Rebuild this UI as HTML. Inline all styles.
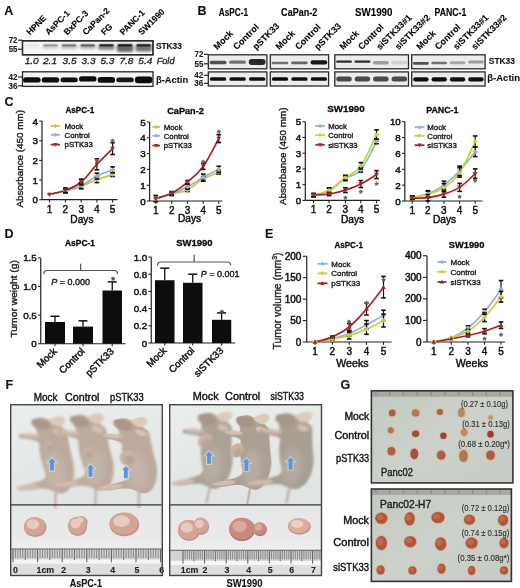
<!DOCTYPE html>
<html><head><meta charset="utf-8"><title>STK33 figure</title>
<style>
html,body{margin:0;padding:0;background:#fff;}
body{width:520px;height:588px;overflow:hidden;}
svg{display:block;font-family:'Liberation Sans', sans-serif;}
</style></head><body>
<svg width="520" height="588" viewBox="0 0 520 588">
<rect width="520" height="588" fill="#fff"/>
<defs>
<filter id="bl3" x="-50%" y="-50%" width="200%" height="200%"><feGaussianBlur stdDeviation="3"/></filter>
<filter id="bl1" x="-30%" y="-80%" width="160%" height="260%"><feGaussianBlur stdDeviation="0.9"/></filter>
<filter id="bl08" x="-20%" y="-20%" width="140%" height="140%"><feGaussianBlur stdDeviation="0.8"/></filter>
<filter id="bl03" x="-20%" y="-20%" width="140%" height="140%"><feGaussianBlur stdDeviation="0.3"/></filter>
<filter id="bl07" x="-20%" y="-20%" width="140%" height="140%"><feGaussianBlur stdDeviation="0.7"/></filter>
<filter id="bl06" x="-30%" y="-30%" width="160%" height="160%"><feGaussianBlur stdDeviation="0.6"/></filter>
<linearGradient id="gmice" x1="0" y1="0" x2="0.3" y2="1"><stop offset="0" stop-color="#eaefed"/><stop offset="1" stop-color="#e0e5e3"/></linearGradient>
<linearGradient id="gtum" x1="0" y1="0" x2="0" y2="1"><stop offset="0" stop-color="#e6e7e7"/><stop offset="0.7" stop-color="#e9e9e9"/><stop offset="1" stop-color="#efefef"/></linearGradient>
<linearGradient id="gG" x1="0" y1="0" x2="1" y2="1"><stop offset="0" stop-color="#c3cac2"/><stop offset="0.5" stop-color="#ccd2ca"/><stop offset="1" stop-color="#c6ccc4"/></linearGradient>
</defs>
<text x="4.30" y="15.20" font-size="12.5" stroke="#111" stroke-width="0.12" font-weight="bold" fill="#111" >A</text>
<text x="197.40" y="14.50" font-size="12.5" stroke="#111" stroke-width="0.12" font-weight="bold" fill="#111" >B</text>
<text x="4.60" y="106.30" font-size="12.5" stroke="#111" stroke-width="0.12" font-weight="bold" fill="#111" >C</text>
<text x="4.60" y="238.30" font-size="12.5" stroke="#111" stroke-width="0.12" font-weight="bold" fill="#111" >D</text>
<text x="264.90" y="238.00" font-size="12.5" stroke="#111" stroke-width="0.12" font-weight="bold" fill="#111" >E</text>
<text x="5.60" y="389.20" font-size="12.5" stroke="#111" stroke-width="0.12" font-weight="bold" fill="#111" >F</text>
<text x="340.60" y="389.00" font-size="12.5" stroke="#111" stroke-width="0.12" font-weight="bold" fill="#111" >G</text>
<rect x="22.50" y="40.80" width="130.50" height="14.00" fill="#f6f6f6" />
<rect x="22.50" y="40.80" width="130.50" height="14.00" fill="none" stroke="#2a2a2a" stroke-width="1.3" />
<rect x="23.62" y="44.00" width="16.41" height="4.00" rx="2" fill="#111" opacity="0.02" filter="url(#bl1)"/>
<rect x="24.62" y="44.20" width="14.41" height="2.2" rx="1.1" fill="#111" opacity="0.03" filter="url(#bl06)"/>
<rect x="42.26" y="44.00" width="16.41" height="5.00" rx="2" fill="#111" opacity="0.15" filter="url(#bl1)"/>
<rect x="43.26" y="44.20" width="14.41" height="2.2" rx="1.1" fill="#111" opacity="0.3" filter="url(#bl06)"/>
<rect x="60.90" y="44.00" width="16.41" height="5.00" rx="2" fill="#111" opacity="0.22" filter="url(#bl1)"/>
<rect x="61.90" y="44.20" width="14.41" height="2.2" rx="1.1" fill="#111" opacity="0.4" filter="url(#bl06)"/>
<rect x="79.55" y="44.00" width="16.41" height="5.00" rx="2" fill="#111" opacity="0.28" filter="url(#bl1)"/>
<rect x="80.55" y="44.20" width="14.41" height="2.2" rx="1.1" fill="#111" opacity="0.5" filter="url(#bl06)"/>
<rect x="98.19" y="44.00" width="16.41" height="6.00" rx="2" fill="#111" opacity="0.45" filter="url(#bl1)"/>
<rect x="99.19" y="44.20" width="14.41" height="2.2" rx="1.1" fill="#111" opacity="0.8" filter="url(#bl06)"/>
<rect x="116.83" y="44.00" width="16.41" height="8.00" rx="2" fill="#111" opacity="0.6" filter="url(#bl1)"/>
<rect x="117.83" y="44.20" width="14.41" height="2.2" rx="1.1" fill="#111" opacity="0.85" filter="url(#bl06)"/>
<rect x="135.48" y="44.00" width="16.41" height="7.50" rx="2" fill="#111" opacity="0.55" filter="url(#bl1)"/>
<rect x="136.48" y="44.20" width="14.41" height="2.2" rx="1.1" fill="#111" opacity="0.8" filter="url(#bl06)"/>
<rect x="22.50" y="40.80" width="130.50" height="14.00" fill="none" stroke="#2a2a2a" stroke-width="1.3" />
<rect x="22.50" y="71.80" width="130.50" height="14.60" fill="#f3f3f3" />
<rect x="23.06" y="77.20" width="17.52" height="5.40" rx="2.70" fill="#0a0a0a" opacity="1.00" filter="url(#bl06)"/>
<rect x="41.70" y="77.34" width="17.52" height="5.13" rx="2.56" fill="#0a0a0a" opacity="1.00" filter="url(#bl06)"/>
<rect x="60.35" y="77.47" width="17.52" height="4.86" rx="2.43" fill="#0a0a0a" opacity="1.00" filter="url(#bl06)"/>
<rect x="78.99" y="76.20" width="17.52" height="5.40" rx="2.70" fill="#0a0a0a" opacity="1.00" filter="url(#bl06)"/>
<rect x="97.63" y="76.93" width="17.52" height="5.94" rx="2.97" fill="#0a0a0a" opacity="1.00" filter="url(#bl06)"/>
<rect x="116.27" y="77.61" width="17.52" height="4.59" rx="2.29" fill="#0a0a0a" opacity="0.95" filter="url(#bl06)"/>
<rect x="134.92" y="76.53" width="17.52" height="6.75" rx="3.00" fill="#0a0a0a" opacity="1.00" filter="url(#bl06)"/>
<rect x="22.50" y="71.80" width="130.50" height="14.60" fill="none" stroke="#2a2a2a" stroke-width="1.3" />
<text x="17.50" y="43.21" font-size="8.4" stroke="#222" stroke-width="0.12" font-weight="bold" text-anchor="end" fill="#222" textLength="8.80" lengthAdjust="spacingAndGlyphs" >72</text>
<line x1="18.10" y1="40.20" x2="22.50" y2="40.20" stroke="#222" stroke-width="1.2" />
<text x="17.50" y="52.21" font-size="8.4" stroke="#222" stroke-width="0.12" font-weight="bold" text-anchor="end" fill="#222" textLength="8.80" lengthAdjust="spacingAndGlyphs" >55</text>
<line x1="18.10" y1="49.20" x2="22.50" y2="49.20" stroke="#222" stroke-width="1.2" />
<text x="17.50" y="80.01" font-size="8.4" stroke="#222" stroke-width="0.12" font-weight="bold" text-anchor="end" fill="#222" textLength="9.00" lengthAdjust="spacingAndGlyphs" >42</text>
<line x1="18.10" y1="77.00" x2="22.50" y2="77.00" stroke="#222" stroke-width="1.2" />
<text x="17.50" y="88.81" font-size="8.4" stroke="#222" stroke-width="0.12" font-weight="bold" text-anchor="end" fill="#222" textLength="9.00" lengthAdjust="spacingAndGlyphs" >36</text>
<line x1="18.10" y1="85.80" x2="22.50" y2="85.80" stroke="#222" stroke-width="1.2" />
<text x="155.90" y="49.19" font-size="9.2" stroke="#111" stroke-width="0.12" font-weight="bold" fill="#111" textLength="26.00" lengthAdjust="spacingAndGlyphs" >STK33</text>
<text x="156.00" y="82.67" font-size="9.4" stroke="#111" stroke-width="0.12" font-weight="bold" fill="#111" textLength="32.10" lengthAdjust="spacingAndGlyphs" >&#946;-Actin</text>
<text x="31.70" y="63.99" font-size="9.2" stroke="#222" stroke-width="0.3" text-anchor="middle" fill="#222" font-style="italic" textLength="14.00" lengthAdjust="spacingAndGlyphs" >1.0</text>
<text x="50.00" y="63.99" font-size="9.2" stroke="#222" stroke-width="0.3" text-anchor="middle" fill="#222" font-style="italic" textLength="14.00" lengthAdjust="spacingAndGlyphs" >2.1</text>
<text x="69.60" y="63.99" font-size="9.2" stroke="#222" stroke-width="0.3" text-anchor="middle" fill="#222" font-style="italic" textLength="14.00" lengthAdjust="spacingAndGlyphs" >3.5</text>
<text x="88.60" y="63.99" font-size="9.2" stroke="#222" stroke-width="0.3" text-anchor="middle" fill="#222" font-style="italic" textLength="14.00" lengthAdjust="spacingAndGlyphs" >3.3</text>
<text x="107.40" y="63.99" font-size="9.2" stroke="#222" stroke-width="0.3" text-anchor="middle" fill="#222" font-style="italic" textLength="14.00" lengthAdjust="spacingAndGlyphs" >5.3</text>
<text x="126.40" y="63.99" font-size="9.2" stroke="#222" stroke-width="0.3" text-anchor="middle" fill="#222" font-style="italic" textLength="14.00" lengthAdjust="spacingAndGlyphs" >7.8</text>
<text x="145.30" y="63.99" font-size="9.2" stroke="#222" stroke-width="0.3" text-anchor="middle" fill="#222" font-style="italic" textLength="14.00" lengthAdjust="spacingAndGlyphs" >5.4</text>
<text x="156.70" y="63.99" font-size="9.2" stroke="#222" stroke-width="0.3" fill="#222" font-style="italic" textLength="17.80" lengthAdjust="spacingAndGlyphs" >Fold</text>
<text x="30.02" y="35.60" font-size="8.6" stroke="#1a1a1a" stroke-width="0.12" font-weight="bold" transform="rotate(-45 30.02 35.60)" >HPNE</text>
<text x="48.66" y="35.60" font-size="8.6" stroke="#1a1a1a" stroke-width="0.12" font-weight="bold" transform="rotate(-45 48.66 35.60)" >AsPC-1</text>
<text x="67.31" y="35.60" font-size="8.6" stroke="#1a1a1a" stroke-width="0.12" font-weight="bold" transform="rotate(-45 67.31 35.60)" >BxPC-3</text>
<text x="85.95" y="35.60" font-size="8.6" stroke="#1a1a1a" stroke-width="0.12" font-weight="bold" transform="rotate(-45 85.95 35.60)" >CaPan-2</text>
<text x="104.59" y="35.60" font-size="8.6" stroke="#1a1a1a" stroke-width="0.12" font-weight="bold" transform="rotate(-45 104.59 35.60)" >FG</text>
<text x="123.24" y="35.60" font-size="8.6" stroke="#1a1a1a" stroke-width="0.12" font-weight="bold" transform="rotate(-45 123.24 35.60)" >PANC-1</text>
<text x="141.88" y="35.60" font-size="8.6" stroke="#1a1a1a" stroke-width="0.12" font-weight="bold" transform="rotate(-45 141.88 35.60)" >SW1990</text>
<rect x="208.30" y="54.80" width="58.60" height="14.00" fill="#ececec" />
<rect x="209.67" y="60.85" width="16.80" height="3.30" rx="1.65" fill="#0a0a0a" opacity="0.70" filter="url(#bl06)"/>
<rect x="229.20" y="60.55" width="16.80" height="3.30" rx="1.65" fill="#0a0a0a" opacity="0.55" filter="url(#bl06)"/>
<rect x="248.73" y="58.90" width="16.80" height="6.00" rx="3.00" fill="#0a0a0a" opacity="0.88" filter="url(#bl06)"/>
<rect x="208.30" y="54.80" width="58.60" height="14.00" fill="none" stroke="#2a2a2a" stroke-width="1.3" />
<rect x="208.30" y="71.90" width="58.60" height="14.10" fill="#ececec" />
<rect x="209.86" y="77.15" width="16.41" height="3.70" rx="1.85" fill="#0a0a0a" opacity="1.00" filter="url(#bl06)"/>
<rect x="229.40" y="77.15" width="16.41" height="3.70" rx="1.85" fill="#0a0a0a" opacity="1.00" filter="url(#bl06)"/>
<rect x="248.93" y="77.15" width="16.41" height="3.70" rx="1.85" fill="#0a0a0a" opacity="1.00" filter="url(#bl06)"/>
<rect x="208.30" y="71.90" width="58.60" height="14.10" fill="none" stroke="#2a2a2a" stroke-width="1.3" />
<text x="217.27" y="50.30" font-size="9.0" stroke="#1a1a1a" stroke-width="0.12" font-weight="bold" transform="rotate(-45 217.27 50.30)" >Mock</text>
<text x="236.80" y="50.30" font-size="9.0" stroke="#1a1a1a" stroke-width="0.12" font-weight="bold" transform="rotate(-45 236.80 50.30)" >Control</text>
<text x="256.33" y="50.30" font-size="9.0" stroke="#1a1a1a" stroke-width="0.12" font-weight="bold" transform="rotate(-45 256.33 50.30)" >pSTK33</text>
<text x="233.40" y="15.99" font-size="10.3" stroke="#1a1a1a" stroke-width="0.12" font-weight="bold" text-anchor="middle" textLength="29.30" lengthAdjust="spacingAndGlyphs" >AsPC-1</text>
<rect x="270.30" y="54.80" width="58.30" height="14.00" fill="#ececec" />
<rect x="271.66" y="61.65" width="16.71" height="2.70" rx="1.35" fill="#0a0a0a" opacity="0.55" filter="url(#bl06)"/>
<rect x="291.09" y="61.45" width="16.71" height="2.70" rx="1.35" fill="#0a0a0a" opacity="0.60" filter="url(#bl06)"/>
<rect x="310.53" y="60.30" width="16.71" height="4.20" rx="2.10" fill="#0a0a0a" opacity="0.95" filter="url(#bl06)"/>
<rect x="270.30" y="54.80" width="58.30" height="14.00" fill="none" stroke="#2a2a2a" stroke-width="1.3" />
<rect x="270.30" y="71.90" width="58.30" height="14.10" fill="#ececec" />
<rect x="271.85" y="77.15" width="16.32" height="3.70" rx="1.85" fill="#0a0a0a" opacity="1.00" filter="url(#bl06)"/>
<rect x="291.29" y="77.15" width="16.32" height="3.70" rx="1.85" fill="#0a0a0a" opacity="1.00" filter="url(#bl06)"/>
<rect x="310.72" y="77.15" width="16.32" height="3.70" rx="1.85" fill="#0a0a0a" opacity="1.00" filter="url(#bl06)"/>
<rect x="270.30" y="71.90" width="58.30" height="14.10" fill="none" stroke="#2a2a2a" stroke-width="1.3" />
<text x="279.22" y="50.30" font-size="9.0" stroke="#1a1a1a" stroke-width="0.12" font-weight="bold" transform="rotate(-45 279.22 50.30)" >Mock</text>
<text x="298.65" y="50.30" font-size="9.0" stroke="#1a1a1a" stroke-width="0.12" font-weight="bold" transform="rotate(-45 298.65 50.30)" >Control</text>
<text x="318.08" y="50.30" font-size="9.0" stroke="#1a1a1a" stroke-width="0.12" font-weight="bold" transform="rotate(-45 318.08 50.30)" >pSTK33</text>
<text x="299.20" y="15.99" font-size="10.3" stroke="#1a1a1a" stroke-width="0.12" font-weight="bold" text-anchor="middle" textLength="36.20" lengthAdjust="spacingAndGlyphs" >CaPan-2</text>
<rect x="334.80" y="54.80" width="73.70" height="14.00" fill="#ececec" />
<rect x="336.09" y="60.40" width="15.85" height="2.40" rx="1.20" fill="#0a0a0a" opacity="0.85" filter="url(#bl06)"/>
<rect x="354.51" y="60.40" width="15.85" height="2.40" rx="1.20" fill="#0a0a0a" opacity="0.85" filter="url(#bl06)"/>
<rect x="372.94" y="61.00" width="15.85" height="3.60" rx="1.80" fill="#0a0a0a" opacity="0.35" filter="url(#bl06)"/>
<rect x="391.36" y="61.00" width="15.85" height="3.60" rx="1.80" fill="#0a0a0a" opacity="0.12" filter="url(#bl06)"/>
<rect x="334.80" y="54.80" width="73.70" height="14.00" fill="none" stroke="#2a2a2a" stroke-width="1.3" />
<rect x="334.80" y="71.90" width="73.70" height="14.10" fill="#ececec" />
<rect x="336.27" y="76.50" width="15.48" height="5.00" rx="2.50" fill="#0a0a0a" opacity="0.72" filter="url(#bl06)"/>
<rect x="354.70" y="76.50" width="15.48" height="5.00" rx="2.50" fill="#0a0a0a" opacity="0.72" filter="url(#bl06)"/>
<rect x="373.12" y="76.50" width="15.48" height="5.00" rx="2.50" fill="#0a0a0a" opacity="0.72" filter="url(#bl06)"/>
<rect x="391.55" y="76.50" width="15.48" height="5.00" rx="2.50" fill="#0a0a0a" opacity="0.72" filter="url(#bl06)"/>
<rect x="334.80" y="71.90" width="73.70" height="14.10" fill="none" stroke="#2a2a2a" stroke-width="1.3" />
<text x="343.21" y="50.30" font-size="9.0" stroke="#1a1a1a" stroke-width="0.12" font-weight="bold" transform="rotate(-45 343.21 50.30)" >Mock</text>
<text x="361.64" y="50.30" font-size="9.0" stroke="#1a1a1a" stroke-width="0.12" font-weight="bold" transform="rotate(-45 361.64 50.30)" >Control</text>
<text x="380.06" y="50.30" font-size="9.0" stroke="#1a1a1a" stroke-width="0.12" font-weight="bold" transform="rotate(-45 380.06 50.30)" >siSTK33#1</text>
<text x="398.49" y="50.30" font-size="9.0" stroke="#1a1a1a" stroke-width="0.12" font-weight="bold" transform="rotate(-45 398.49 50.30)" >siSTK33#2</text>
<text x="373.75" y="15.99" font-size="10.3" stroke="#1a1a1a" stroke-width="0.12" font-weight="bold" text-anchor="middle" textLength="37.50" lengthAdjust="spacingAndGlyphs" >SW1990</text>
<rect x="411.70" y="54.80" width="73.40" height="14.00" fill="#ececec" />
<rect x="412.98" y="62.05" width="15.78" height="2.70" rx="1.35" fill="#0a0a0a" opacity="0.70" filter="url(#bl06)"/>
<rect x="431.33" y="61.65" width="15.78" height="2.70" rx="1.35" fill="#0a0a0a" opacity="0.55" filter="url(#bl06)"/>
<rect x="449.68" y="61.20" width="15.78" height="3.00" rx="1.50" fill="#0a0a0a" opacity="0.30" filter="url(#bl06)"/>
<rect x="468.03" y="60.50" width="15.78" height="3.00" rx="1.50" fill="#0a0a0a" opacity="0.35" filter="url(#bl06)"/>
<rect x="411.70" y="54.80" width="73.40" height="14.00" fill="none" stroke="#2a2a2a" stroke-width="1.3" />
<rect x="411.70" y="71.90" width="73.40" height="14.10" fill="#ececec" />
<rect x="413.17" y="77.27" width="15.41" height="4.25" rx="2.13" fill="#0a0a0a" opacity="1.00" filter="url(#bl06)"/>
<rect x="431.52" y="77.27" width="15.41" height="4.25" rx="2.13" fill="#0a0a0a" opacity="1.00" filter="url(#bl06)"/>
<rect x="449.87" y="77.27" width="15.41" height="4.25" rx="2.13" fill="#0a0a0a" opacity="1.00" filter="url(#bl06)"/>
<rect x="468.22" y="77.27" width="15.41" height="4.25" rx="2.13" fill="#0a0a0a" opacity="1.00" filter="url(#bl06)"/>
<rect x="411.70" y="71.90" width="73.40" height="14.10" fill="none" stroke="#2a2a2a" stroke-width="1.3" />
<text x="420.07" y="50.30" font-size="9.0" stroke="#1a1a1a" stroke-width="0.12" font-weight="bold" transform="rotate(-45 420.07 50.30)" >Mock</text>
<text x="438.43" y="50.30" font-size="9.0" stroke="#1a1a1a" stroke-width="0.12" font-weight="bold" transform="rotate(-45 438.43 50.30)" >Control</text>
<text x="456.77" y="50.30" font-size="9.0" stroke="#1a1a1a" stroke-width="0.12" font-weight="bold" transform="rotate(-45 456.77 50.30)" >siSTK33#1</text>
<text x="475.12" y="50.30" font-size="9.0" stroke="#1a1a1a" stroke-width="0.12" font-weight="bold" transform="rotate(-45 475.12 50.30)" >siSTK33#2</text>
<text x="450.40" y="15.99" font-size="10.3" stroke="#1a1a1a" stroke-width="0.12" font-weight="bold" text-anchor="middle" textLength="31.75" lengthAdjust="spacingAndGlyphs" >PANC-1</text>
<text x="203.30" y="57.31" font-size="8.4" stroke="#222" stroke-width="0.12" font-weight="bold" text-anchor="end" fill="#222" textLength="8.80" lengthAdjust="spacingAndGlyphs" >72</text>
<line x1="203.90" y1="54.30" x2="208.30" y2="54.30" stroke="#222" stroke-width="1.2" />
<text x="203.30" y="66.81" font-size="8.4" stroke="#222" stroke-width="0.12" font-weight="bold" text-anchor="end" fill="#222" textLength="8.80" lengthAdjust="spacingAndGlyphs" >55</text>
<line x1="203.90" y1="63.80" x2="208.30" y2="63.80" stroke="#222" stroke-width="1.2" />
<text x="203.30" y="78.31" font-size="8.4" stroke="#222" stroke-width="0.12" font-weight="bold" text-anchor="end" fill="#222" textLength="9.00" lengthAdjust="spacingAndGlyphs" >42</text>
<line x1="203.90" y1="75.30" x2="208.30" y2="75.30" stroke="#222" stroke-width="1.2" />
<text x="203.30" y="86.31" font-size="8.4" stroke="#222" stroke-width="0.12" font-weight="bold" text-anchor="end" fill="#222" textLength="9.00" lengthAdjust="spacingAndGlyphs" >36</text>
<line x1="203.90" y1="83.30" x2="208.30" y2="83.30" stroke="#222" stroke-width="1.2" />
<text x="488.80" y="63.89" font-size="9.2" stroke="#111" stroke-width="0.12" font-weight="bold" fill="#111" textLength="26.20" lengthAdjust="spacingAndGlyphs" >STK33</text>
<text x="487.30" y="81.17" font-size="9.4" stroke="#111" stroke-width="0.12" font-weight="bold" fill="#111" textLength="32.70" lengthAdjust="spacingAndGlyphs" >&#946;-Actin</text>
<line x1="42.00" y1="121.10" x2="42.00" y2="199.70" stroke="#222" stroke-width="1.2" />
<line x1="42.00" y1="199.70" x2="117.50" y2="199.70" stroke="#222" stroke-width="1.2" />
<line x1="39.20" y1="199.70" x2="42.00" y2="199.70" stroke="#222" stroke-width="1.1" />
<text x="38.00" y="203.21" font-size="9.8" stroke="#1a1a1a" stroke-width="0.5" text-anchor="end" >0</text>
<line x1="39.20" y1="180.05" x2="42.00" y2="180.05" stroke="#222" stroke-width="1.1" />
<text x="38.00" y="183.56" font-size="9.8" stroke="#1a1a1a" stroke-width="0.5" text-anchor="end" >1</text>
<line x1="39.20" y1="160.40" x2="42.00" y2="160.40" stroke="#222" stroke-width="1.1" />
<text x="38.00" y="163.91" font-size="9.8" stroke="#1a1a1a" stroke-width="0.5" text-anchor="end" >2</text>
<line x1="39.20" y1="140.75" x2="42.00" y2="140.75" stroke="#222" stroke-width="1.1" />
<text x="38.00" y="144.26" font-size="9.8" stroke="#1a1a1a" stroke-width="0.5" text-anchor="end" >3</text>
<line x1="39.20" y1="121.10" x2="42.00" y2="121.10" stroke="#222" stroke-width="1.1" />
<text x="38.00" y="124.61" font-size="9.8" stroke="#1a1a1a" stroke-width="0.5" text-anchor="end" >4</text>
<line x1="49.50" y1="199.70" x2="49.50" y2="202.50" stroke="#222" stroke-width="1.1" />
<text x="49.50" y="213.38" font-size="10.0" stroke="#1a1a1a" stroke-width="0.45" text-anchor="middle" >1</text>
<line x1="65.40" y1="199.70" x2="65.40" y2="202.50" stroke="#222" stroke-width="1.1" />
<text x="65.40" y="213.38" font-size="10.0" stroke="#1a1a1a" stroke-width="0.45" text-anchor="middle" >2</text>
<line x1="81.20" y1="199.70" x2="81.20" y2="202.50" stroke="#222" stroke-width="1.1" />
<text x="81.20" y="213.38" font-size="10.0" stroke="#1a1a1a" stroke-width="0.45" text-anchor="middle" >3</text>
<line x1="96.90" y1="199.70" x2="96.90" y2="202.50" stroke="#222" stroke-width="1.1" />
<text x="96.90" y="213.38" font-size="10.0" stroke="#1a1a1a" stroke-width="0.45" text-anchor="middle" >4</text>
<line x1="112.60" y1="199.70" x2="112.60" y2="202.50" stroke="#222" stroke-width="1.1" />
<text x="112.60" y="213.38" font-size="10.0" stroke="#1a1a1a" stroke-width="0.45" text-anchor="middle" >5</text>
<path d="M49.50 194.39 C52.68 193.69 59.06 192.47 65.40 190.86 C71.74 189.25 74.90 188.58 81.20 186.34 C87.50 184.10 90.62 182.01 96.90 179.66 C103.18 177.30 109.46 175.57 112.60 174.55 " fill="none" stroke="#cfc24a" stroke-width="1.7" stroke-linejoin="round"/>
<path d="M49.50 194.39 C52.68 193.69 59.06 192.63 65.40 190.86 C71.74 189.09 74.90 188.50 81.20 185.55 C87.50 182.60 90.62 179.26 96.90 176.12 C103.18 172.98 109.46 171.09 112.60 169.83 " fill="none" stroke="#93b3d6" stroke-width="1.7" stroke-linejoin="round"/>
<path d="M49.50 194.39 C52.68 193.57 59.06 192.74 65.40 190.27 C71.74 187.79 74.90 187.20 81.20 182.01 C87.50 176.83 90.62 171.01 96.90 164.33 C103.18 157.65 109.46 151.75 112.60 148.61 " fill="none" stroke="#a82424" stroke-width="1.7" stroke-linejoin="round"/>
<path d="M46.64 194.39 L49.50 192.19 L52.36 194.39 L49.50 196.59Z" fill="#cfc24a"/>
<line x1="65.40" y1="188.89" x2="65.40" y2="192.82" stroke="#111" stroke-width="1.2" />
<line x1="63.10" y1="188.89" x2="67.70" y2="188.89" stroke="#111" stroke-width="1.6" />
<line x1="63.10" y1="192.82" x2="67.70" y2="192.82" stroke="#111" stroke-width="1.6" />
<path d="M62.54 190.86 L65.40 188.66 L68.26 190.86 L65.40 193.06Z" fill="#cfc24a"/>
<line x1="81.20" y1="183.98" x2="81.20" y2="188.70" stroke="#111" stroke-width="1.2" />
<line x1="78.90" y1="183.98" x2="83.50" y2="183.98" stroke="#111" stroke-width="1.6" />
<line x1="78.90" y1="188.70" x2="83.50" y2="188.70" stroke="#111" stroke-width="1.6" />
<path d="M78.34 186.34 L81.20 184.14 L84.06 186.34 L81.20 188.54Z" fill="#cfc24a"/>
<line x1="96.90" y1="176.71" x2="96.90" y2="182.60" stroke="#111" stroke-width="1.2" />
<line x1="94.60" y1="176.71" x2="99.20" y2="176.71" stroke="#111" stroke-width="1.6" />
<line x1="94.60" y1="182.60" x2="99.20" y2="182.60" stroke="#111" stroke-width="1.6" />
<path d="M94.04 179.66 L96.90 177.46 L99.76 179.66 L96.90 181.86Z" fill="#cfc24a"/>
<line x1="112.60" y1="172.58" x2="112.60" y2="176.51" stroke="#111" stroke-width="1.2" />
<line x1="110.30" y1="172.58" x2="114.90" y2="172.58" stroke="#111" stroke-width="1.6" />
<line x1="110.30" y1="176.51" x2="114.90" y2="176.51" stroke="#111" stroke-width="1.6" />
<path d="M109.74 174.55 L112.60 172.35 L115.46 174.55 L112.60 176.75Z" fill="#cfc24a"/>
<path d="M46.64 194.39 L49.50 192.19 L52.36 194.39 L49.50 196.59Z" fill="#93b3d6"/>
<line x1="65.40" y1="189.29" x2="65.40" y2="192.43" stroke="#111" stroke-width="1.2" />
<line x1="63.10" y1="189.29" x2="67.70" y2="189.29" stroke="#111" stroke-width="1.6" />
<line x1="63.10" y1="192.43" x2="67.70" y2="192.43" stroke="#111" stroke-width="1.6" />
<path d="M62.54 190.86 L65.40 188.66 L68.26 190.86 L65.40 193.06Z" fill="#93b3d6"/>
<line x1="81.20" y1="182.60" x2="81.20" y2="188.50" stroke="#111" stroke-width="1.2" />
<line x1="78.90" y1="182.60" x2="83.50" y2="182.60" stroke="#111" stroke-width="1.6" />
<line x1="78.90" y1="188.50" x2="83.50" y2="188.50" stroke="#111" stroke-width="1.6" />
<path d="M78.34 185.55 L81.20 183.35 L84.06 185.55 L81.20 187.75Z" fill="#93b3d6"/>
<line x1="96.90" y1="173.17" x2="96.90" y2="179.07" stroke="#111" stroke-width="1.2" />
<line x1="94.60" y1="173.17" x2="99.20" y2="173.17" stroke="#111" stroke-width="1.6" />
<line x1="94.60" y1="179.07" x2="99.20" y2="179.07" stroke="#111" stroke-width="1.6" />
<path d="M94.04 176.12 L96.90 173.92 L99.76 176.12 L96.90 178.32Z" fill="#93b3d6"/>
<line x1="112.60" y1="166.88" x2="112.60" y2="172.78" stroke="#111" stroke-width="1.2" />
<line x1="110.30" y1="166.88" x2="114.90" y2="166.88" stroke="#111" stroke-width="1.6" />
<line x1="110.30" y1="172.78" x2="114.90" y2="172.78" stroke="#111" stroke-width="1.6" />
<path d="M109.74 169.83 L112.60 167.63 L115.46 169.83 L112.60 172.03Z" fill="#93b3d6"/>
<path d="M47.08 192.63 L51.92 192.63 L49.50 196.81Z" fill="#a82424"/>
<line x1="65.40" y1="187.91" x2="65.40" y2="192.63" stroke="#111" stroke-width="1.2" />
<line x1="63.10" y1="187.91" x2="67.70" y2="187.91" stroke="#111" stroke-width="1.6" />
<line x1="63.10" y1="192.63" x2="67.70" y2="192.63" stroke="#111" stroke-width="1.6" />
<path d="M62.98 188.51 L67.82 188.51 L65.40 192.69Z" fill="#a82424"/>
<line x1="81.20" y1="179.07" x2="81.20" y2="184.96" stroke="#111" stroke-width="1.2" />
<line x1="78.90" y1="179.07" x2="83.50" y2="179.07" stroke="#111" stroke-width="1.6" />
<line x1="78.90" y1="184.96" x2="83.50" y2="184.96" stroke="#111" stroke-width="1.6" />
<path d="M78.78 180.25 L83.62 180.25 L81.20 184.43Z" fill="#a82424"/>
<line x1="96.90" y1="158.83" x2="96.90" y2="169.83" stroke="#111" stroke-width="1.2" />
<line x1="94.60" y1="158.83" x2="99.20" y2="158.83" stroke="#111" stroke-width="1.6" />
<line x1="94.60" y1="169.83" x2="99.20" y2="169.83" stroke="#111" stroke-width="1.6" />
<path d="M94.48 162.57 L99.32 162.57 L96.90 166.75Z" fill="#a82424"/>
<line x1="112.60" y1="142.71" x2="112.60" y2="154.50" stroke="#111" stroke-width="1.2" />
<line x1="110.30" y1="142.71" x2="114.90" y2="142.71" stroke="#111" stroke-width="1.6" />
<line x1="110.30" y1="154.50" x2="114.90" y2="154.50" stroke="#111" stroke-width="1.6" />
<path d="M110.18 146.85 L115.02 146.85 L112.60 151.03Z" fill="#a82424"/>
<text x="96.90" y="164.60" font-size="9.5" stroke="#666" stroke-width="0.6" text-anchor="middle" fill="#666" >*</text>
<text x="112.60" y="145.10" font-size="9.5" stroke="#666" stroke-width="0.6" text-anchor="middle" fill="#666" >*</text>
<text x="79.80" y="112.69" font-size="9.2" stroke="#1a1a1a" stroke-width="0.3" font-weight="bold" text-anchor="middle" textLength="28.80" lengthAdjust="spacingAndGlyphs" >AsPC-1</text>
<line x1="50.60" y1="126.00" x2="60.00" y2="126.00" stroke="#cfc24a" stroke-width="1.8" />
<path d="M52.70 126.00 L55.30 124.00 L57.90 126.00 L55.30 128.00Z" fill="#cfc24a"/>
<text x="64.60" y="128.79" font-size="7.8" stroke="#222" stroke-width="0.38" fill="#222" >Mock</text>
<line x1="50.60" y1="134.80" x2="60.00" y2="134.80" stroke="#93b3d6" stroke-width="1.8" />
<path d="M52.70 134.80 L55.30 132.80 L57.90 134.80 L55.30 136.80Z" fill="#93b3d6"/>
<text x="64.60" y="137.59" font-size="7.8" stroke="#222" stroke-width="0.38" fill="#222" >Control</text>
<line x1="50.60" y1="144.60" x2="60.00" y2="144.60" stroke="#a82424" stroke-width="1.8" />
<path d="M53.10 143.00 L57.50 143.00 L55.30 146.80Z" fill="#a82424"/>
<text x="64.60" y="147.39" font-size="7.8" stroke="#222" stroke-width="0.38" fill="#222" >pSTK33</text>
<text x="23.10" y="158.80" font-size="9.8" text-anchor="middle" fill="#222" stroke="#222" stroke-width="0.4" transform="rotate(-90 23.10 158.80)" textLength="97.50" lengthAdjust="spacingAndGlyphs">Absorbance (450 mm)</text>
<text x="81.90" y="222.65" font-size="10.2" stroke="#1a1a1a" stroke-width="0.45" text-anchor="middle" >Days</text>
<line x1="149.60" y1="122.10" x2="149.60" y2="201.00" stroke="#222" stroke-width="1.2" />
<line x1="149.60" y1="201.00" x2="222.50" y2="201.00" stroke="#222" stroke-width="1.2" />
<line x1="146.80" y1="201.00" x2="149.60" y2="201.00" stroke="#222" stroke-width="1.1" />
<text x="145.60" y="204.51" font-size="9.8" stroke="#1a1a1a" stroke-width="0.5" text-anchor="end" >0</text>
<line x1="146.80" y1="185.20" x2="149.60" y2="185.20" stroke="#222" stroke-width="1.1" />
<text x="145.60" y="188.71" font-size="9.8" stroke="#1a1a1a" stroke-width="0.5" text-anchor="end" >1</text>
<line x1="146.80" y1="169.40" x2="149.60" y2="169.40" stroke="#222" stroke-width="1.1" />
<text x="145.60" y="172.91" font-size="9.8" stroke="#1a1a1a" stroke-width="0.5" text-anchor="end" >2</text>
<line x1="146.80" y1="153.60" x2="149.60" y2="153.60" stroke="#222" stroke-width="1.1" />
<text x="145.60" y="157.11" font-size="9.8" stroke="#1a1a1a" stroke-width="0.5" text-anchor="end" >3</text>
<line x1="146.80" y1="137.80" x2="149.60" y2="137.80" stroke="#222" stroke-width="1.1" />
<text x="145.60" y="141.31" font-size="9.8" stroke="#1a1a1a" stroke-width="0.5" text-anchor="end" >4</text>
<line x1="146.80" y1="122.00" x2="149.60" y2="122.00" stroke="#222" stroke-width="1.1" />
<text x="145.60" y="125.51" font-size="9.8" stroke="#1a1a1a" stroke-width="0.5" text-anchor="end" >5</text>
<line x1="155.75" y1="201.00" x2="155.75" y2="203.80" stroke="#222" stroke-width="1.1" />
<text x="155.75" y="213.88" font-size="10.0" stroke="#1a1a1a" stroke-width="0.45" text-anchor="middle" >1</text>
<line x1="171.75" y1="201.00" x2="171.75" y2="203.80" stroke="#222" stroke-width="1.1" />
<text x="171.75" y="213.88" font-size="10.0" stroke="#1a1a1a" stroke-width="0.45" text-anchor="middle" >2</text>
<line x1="187.50" y1="201.00" x2="187.50" y2="203.80" stroke="#222" stroke-width="1.1" />
<text x="187.50" y="213.88" font-size="10.0" stroke="#1a1a1a" stroke-width="0.45" text-anchor="middle" >3</text>
<line x1="203.25" y1="201.00" x2="203.25" y2="203.80" stroke="#222" stroke-width="1.1" />
<text x="203.25" y="213.88" font-size="10.0" stroke="#1a1a1a" stroke-width="0.45" text-anchor="middle" >4</text>
<line x1="218.75" y1="201.00" x2="218.75" y2="203.80" stroke="#222" stroke-width="1.1" />
<text x="218.75" y="213.88" font-size="10.0" stroke="#1a1a1a" stroke-width="0.45" text-anchor="middle" >5</text>
<path d="M155.75 198.63 C158.95 197.68 165.40 195.63 171.75 193.89 C178.10 192.15 181.20 192.94 187.50 189.94 C193.80 186.94 197.00 182.36 203.25 178.88 C209.50 175.40 215.65 173.82 218.75 172.56 " fill="none" stroke="#cfc24a" stroke-width="1.7" stroke-linejoin="round"/>
<path d="M155.75 198.63 C158.95 197.68 165.40 196.26 171.75 193.89 C178.10 191.52 181.20 190.10 187.50 186.78 C193.80 183.46 197.00 180.78 203.25 177.30 C209.50 173.82 215.65 170.98 218.75 169.40 " fill="none" stroke="#93b3d6" stroke-width="1.7" stroke-linejoin="round"/>
<path d="M155.75 198.63 C158.95 197.52 165.40 196.42 171.75 193.10 C178.10 189.78 181.20 187.41 187.50 182.04 C193.80 176.67 197.00 174.93 203.25 166.24 C209.50 157.55 215.65 144.12 218.75 138.59 " fill="none" stroke="#a82424" stroke-width="1.7" stroke-linejoin="round"/>
<path d="M152.89 198.63 L155.75 196.43 L158.61 198.63 L155.75 200.83Z" fill="#cfc24a"/>
<line x1="171.75" y1="192.31" x2="171.75" y2="195.47" stroke="#111" stroke-width="1.2" />
<line x1="169.45" y1="192.31" x2="174.05" y2="192.31" stroke="#111" stroke-width="1.6" />
<line x1="169.45" y1="195.47" x2="174.05" y2="195.47" stroke="#111" stroke-width="1.6" />
<path d="M168.89 193.89 L171.75 191.69 L174.61 193.89 L171.75 196.09Z" fill="#cfc24a"/>
<line x1="187.50" y1="188.36" x2="187.50" y2="191.52" stroke="#111" stroke-width="1.2" />
<line x1="185.20" y1="188.36" x2="189.80" y2="188.36" stroke="#111" stroke-width="1.6" />
<line x1="185.20" y1="191.52" x2="189.80" y2="191.52" stroke="#111" stroke-width="1.6" />
<path d="M184.64 189.94 L187.50 187.74 L190.36 189.94 L187.50 192.14Z" fill="#cfc24a"/>
<line x1="203.25" y1="176.51" x2="203.25" y2="181.25" stroke="#111" stroke-width="1.2" />
<line x1="200.95" y1="176.51" x2="205.55" y2="176.51" stroke="#111" stroke-width="1.6" />
<line x1="200.95" y1="181.25" x2="205.55" y2="181.25" stroke="#111" stroke-width="1.6" />
<path d="M200.39 178.88 L203.25 176.68 L206.11 178.88 L203.25 181.08Z" fill="#cfc24a"/>
<line x1="218.75" y1="170.98" x2="218.75" y2="174.14" stroke="#111" stroke-width="1.2" />
<line x1="216.45" y1="170.98" x2="221.05" y2="170.98" stroke="#111" stroke-width="1.6" />
<line x1="216.45" y1="174.14" x2="221.05" y2="174.14" stroke="#111" stroke-width="1.6" />
<path d="M215.89 172.56 L218.75 170.36 L221.61 172.56 L218.75 174.76Z" fill="#cfc24a"/>
<line x1="155.75" y1="195.47" x2="155.75" y2="201.79" stroke="#111" stroke-width="1.2" />
<line x1="153.45" y1="195.47" x2="158.05" y2="195.47" stroke="#111" stroke-width="1.6" />
<line x1="153.45" y1="201.79" x2="158.05" y2="201.79" stroke="#111" stroke-width="1.6" />
<path d="M152.89 198.63 L155.75 196.43 L158.61 198.63 L155.75 200.83Z" fill="#93b3d6"/>
<line x1="171.75" y1="192.31" x2="171.75" y2="195.47" stroke="#111" stroke-width="1.2" />
<line x1="169.45" y1="192.31" x2="174.05" y2="192.31" stroke="#111" stroke-width="1.6" />
<line x1="169.45" y1="195.47" x2="174.05" y2="195.47" stroke="#111" stroke-width="1.6" />
<path d="M168.89 193.89 L171.75 191.69 L174.61 193.89 L171.75 196.09Z" fill="#93b3d6"/>
<line x1="187.50" y1="184.41" x2="187.50" y2="189.15" stroke="#111" stroke-width="1.2" />
<line x1="185.20" y1="184.41" x2="189.80" y2="184.41" stroke="#111" stroke-width="1.6" />
<line x1="185.20" y1="189.15" x2="189.80" y2="189.15" stroke="#111" stroke-width="1.6" />
<path d="M184.64 186.78 L187.50 184.58 L190.36 186.78 L187.50 188.98Z" fill="#93b3d6"/>
<line x1="203.25" y1="174.14" x2="203.25" y2="180.46" stroke="#111" stroke-width="1.2" />
<line x1="200.95" y1="174.14" x2="205.55" y2="174.14" stroke="#111" stroke-width="1.6" />
<line x1="200.95" y1="180.46" x2="205.55" y2="180.46" stroke="#111" stroke-width="1.6" />
<path d="M200.39 177.30 L203.25 175.10 L206.11 177.30 L203.25 179.50Z" fill="#93b3d6"/>
<line x1="218.75" y1="166.24" x2="218.75" y2="172.56" stroke="#111" stroke-width="1.2" />
<line x1="216.45" y1="166.24" x2="221.05" y2="166.24" stroke="#111" stroke-width="1.6" />
<line x1="216.45" y1="172.56" x2="221.05" y2="172.56" stroke="#111" stroke-width="1.6" />
<path d="M215.89 169.40 L218.75 167.20 L221.61 169.40 L218.75 171.60Z" fill="#93b3d6"/>
<path d="M153.33 196.87 L158.17 196.87 L155.75 201.05Z" fill="#a82424"/>
<line x1="171.75" y1="191.52" x2="171.75" y2="194.68" stroke="#111" stroke-width="1.2" />
<line x1="169.45" y1="191.52" x2="174.05" y2="191.52" stroke="#111" stroke-width="1.6" />
<line x1="169.45" y1="194.68" x2="174.05" y2="194.68" stroke="#111" stroke-width="1.6" />
<path d="M169.33 191.34 L174.17 191.34 L171.75 195.52Z" fill="#a82424"/>
<line x1="187.50" y1="180.46" x2="187.50" y2="183.62" stroke="#111" stroke-width="1.2" />
<line x1="185.20" y1="180.46" x2="189.80" y2="180.46" stroke="#111" stroke-width="1.6" />
<line x1="185.20" y1="183.62" x2="189.80" y2="183.62" stroke="#111" stroke-width="1.6" />
<path d="M185.08 180.28 L189.92 180.28 L187.50 184.46Z" fill="#a82424"/>
<line x1="203.25" y1="163.08" x2="203.25" y2="169.40" stroke="#111" stroke-width="1.2" />
<line x1="200.95" y1="163.08" x2="205.55" y2="163.08" stroke="#111" stroke-width="1.6" />
<line x1="200.95" y1="169.40" x2="205.55" y2="169.40" stroke="#111" stroke-width="1.6" />
<path d="M200.83 164.48 L205.67 164.48 L203.25 168.66Z" fill="#a82424"/>
<line x1="218.75" y1="134.64" x2="218.75" y2="142.54" stroke="#111" stroke-width="1.2" />
<line x1="216.45" y1="134.64" x2="221.05" y2="134.64" stroke="#111" stroke-width="1.6" />
<line x1="216.45" y1="142.54" x2="221.05" y2="142.54" stroke="#111" stroke-width="1.6" />
<path d="M216.33 136.83 L221.17 136.83 L218.75 141.01Z" fill="#a82424"/>
<text x="203.25" y="165.60" font-size="9.5" stroke="#666" stroke-width="0.6" text-anchor="middle" fill="#666" >*</text>
<text x="218.75" y="135.60" font-size="9.5" stroke="#666" stroke-width="0.6" text-anchor="middle" fill="#666" >*</text>
<text x="185.50" y="113.79" font-size="9.2" stroke="#1a1a1a" stroke-width="0.3" font-weight="bold" text-anchor="middle" textLength="36.60" lengthAdjust="spacingAndGlyphs" >CaPan-2</text>
<line x1="152.50" y1="127.00" x2="160.00" y2="127.00" stroke="#cfc24a" stroke-width="1.8" />
<path d="M153.65 127.00 L156.25 125.00 L158.85 127.00 L156.25 129.00Z" fill="#cfc24a"/>
<text x="163.70" y="129.79" font-size="7.8" stroke="#222" stroke-width="0.38" fill="#222" >Mock</text>
<line x1="152.50" y1="135.80" x2="160.00" y2="135.80" stroke="#93b3d6" stroke-width="1.8" />
<path d="M153.65 135.80 L156.25 133.80 L158.85 135.80 L156.25 137.80Z" fill="#93b3d6"/>
<text x="163.70" y="138.59" font-size="7.8" stroke="#222" stroke-width="0.38" fill="#222" >Control</text>
<line x1="152.50" y1="145.60" x2="160.00" y2="145.60" stroke="#a82424" stroke-width="1.8" />
<path d="M154.05 144.00 L158.45 144.00 L156.25 147.80Z" fill="#a82424"/>
<text x="163.70" y="148.39" font-size="7.8" stroke="#222" stroke-width="0.38" fill="#222" >pSTK33</text>
<text x="189.50" y="222.45" font-size="10.2" stroke="#1a1a1a" stroke-width="0.45" text-anchor="middle" >Days</text>
<line x1="305.30" y1="121.70" x2="305.30" y2="200.40" stroke="#222" stroke-width="1.2" />
<line x1="305.30" y1="200.40" x2="380.00" y2="200.40" stroke="#222" stroke-width="1.2" />
<line x1="302.50" y1="200.40" x2="305.30" y2="200.40" stroke="#222" stroke-width="1.1" />
<text x="301.30" y="203.91" font-size="9.8" stroke="#1a1a1a" stroke-width="0.5" text-anchor="end" >0</text>
<line x1="302.50" y1="184.66" x2="305.30" y2="184.66" stroke="#222" stroke-width="1.1" />
<text x="301.30" y="188.17" font-size="9.8" stroke="#1a1a1a" stroke-width="0.5" text-anchor="end" >1</text>
<line x1="302.50" y1="168.92" x2="305.30" y2="168.92" stroke="#222" stroke-width="1.1" />
<text x="301.30" y="172.43" font-size="9.8" stroke="#1a1a1a" stroke-width="0.5" text-anchor="end" >2</text>
<line x1="302.50" y1="153.18" x2="305.30" y2="153.18" stroke="#222" stroke-width="1.1" />
<text x="301.30" y="156.69" font-size="9.8" stroke="#1a1a1a" stroke-width="0.5" text-anchor="end" >3</text>
<line x1="302.50" y1="137.44" x2="305.30" y2="137.44" stroke="#222" stroke-width="1.1" />
<text x="301.30" y="140.95" font-size="9.8" stroke="#1a1a1a" stroke-width="0.5" text-anchor="end" >4</text>
<line x1="302.50" y1="121.70" x2="305.30" y2="121.70" stroke="#222" stroke-width="1.1" />
<text x="301.30" y="125.21" font-size="9.8" stroke="#1a1a1a" stroke-width="0.5" text-anchor="end" >5</text>
<line x1="313.50" y1="200.40" x2="313.50" y2="203.20" stroke="#222" stroke-width="1.1" />
<text x="313.50" y="213.38" font-size="10.0" stroke="#1a1a1a" stroke-width="0.45" text-anchor="middle" >1</text>
<line x1="329.10" y1="200.40" x2="329.10" y2="203.20" stroke="#222" stroke-width="1.1" />
<text x="329.10" y="213.38" font-size="10.0" stroke="#1a1a1a" stroke-width="0.45" text-anchor="middle" >2</text>
<line x1="345.40" y1="200.40" x2="345.40" y2="203.20" stroke="#222" stroke-width="1.1" />
<text x="345.40" y="213.38" font-size="10.0" stroke="#1a1a1a" stroke-width="0.45" text-anchor="middle" >3</text>
<line x1="360.80" y1="200.40" x2="360.80" y2="203.20" stroke="#222" stroke-width="1.1" />
<text x="360.80" y="213.38" font-size="10.0" stroke="#1a1a1a" stroke-width="0.45" text-anchor="middle" >4</text>
<line x1="376.50" y1="200.40" x2="376.50" y2="203.20" stroke="#222" stroke-width="1.1" />
<text x="376.50" y="213.38" font-size="10.0" stroke="#1a1a1a" stroke-width="0.45" text-anchor="middle" >5</text>
<path d="M313.50 195.21 C316.62 194.29 322.72 194.01 329.10 190.64 C335.48 187.27 339.06 182.55 345.40 178.36 C351.74 174.18 354.58 177.10 360.80 169.71 C367.02 162.31 373.36 147.04 376.50 141.38 " fill="none" stroke="#93b3d6" stroke-width="1.7" stroke-linejoin="round"/>
<path d="M313.50 195.21 C316.62 194.20 322.72 193.69 329.10 190.17 C335.48 186.64 339.06 182.46 345.40 177.58 C351.74 172.70 354.58 174.37 360.80 165.77 C367.02 157.18 373.36 140.84 376.50 134.61 " fill="none" stroke="#c9d23c" stroke-width="1.7" stroke-linejoin="round"/>
<path d="M313.50 195.05 C316.62 194.86 322.72 195.08 329.10 194.10 C335.48 193.13 339.06 192.18 345.40 190.17 C351.74 188.15 354.58 187.15 360.80 184.03 C367.02 180.91 373.36 176.48 376.50 174.59 " fill="none" stroke="#a82424" stroke-width="1.7" stroke-linejoin="round"/>
<line x1="313.50" y1="193.63" x2="313.50" y2="196.78" stroke="#111" stroke-width="1.2" />
<line x1="311.20" y1="193.63" x2="315.80" y2="193.63" stroke="#111" stroke-width="1.6" />
<line x1="311.20" y1="196.78" x2="315.80" y2="196.78" stroke="#111" stroke-width="1.6" />
<path d="M310.64 195.21 L313.50 193.01 L316.36 195.21 L313.50 197.41Z" fill="#93b3d6"/>
<line x1="329.10" y1="188.28" x2="329.10" y2="193.00" stroke="#111" stroke-width="1.2" />
<line x1="326.80" y1="188.28" x2="331.40" y2="188.28" stroke="#111" stroke-width="1.6" />
<line x1="326.80" y1="193.00" x2="331.40" y2="193.00" stroke="#111" stroke-width="1.6" />
<path d="M326.24 190.64 L329.10 188.44 L331.96 190.64 L329.10 192.84Z" fill="#93b3d6"/>
<line x1="345.40" y1="176.00" x2="345.40" y2="180.72" stroke="#111" stroke-width="1.2" />
<line x1="343.10" y1="176.00" x2="347.70" y2="176.00" stroke="#111" stroke-width="1.6" />
<line x1="343.10" y1="180.72" x2="347.70" y2="180.72" stroke="#111" stroke-width="1.6" />
<path d="M342.54 178.36 L345.40 176.16 L348.26 178.36 L345.40 180.56Z" fill="#93b3d6"/>
<line x1="360.80" y1="167.35" x2="360.80" y2="172.07" stroke="#111" stroke-width="1.2" />
<line x1="358.50" y1="167.35" x2="363.10" y2="167.35" stroke="#111" stroke-width="1.6" />
<line x1="358.50" y1="172.07" x2="363.10" y2="172.07" stroke="#111" stroke-width="1.6" />
<path d="M357.94 169.71 L360.80 167.51 L363.66 169.71 L360.80 171.91Z" fill="#93b3d6"/>
<line x1="376.50" y1="139.01" x2="376.50" y2="143.74" stroke="#111" stroke-width="1.2" />
<line x1="374.20" y1="139.01" x2="378.80" y2="139.01" stroke="#111" stroke-width="1.6" />
<line x1="374.20" y1="143.74" x2="378.80" y2="143.74" stroke="#111" stroke-width="1.6" />
<path d="M373.64 141.38 L376.50 139.18 L379.36 141.38 L376.50 143.57Z" fill="#93b3d6"/>
<line x1="313.50" y1="193.63" x2="313.50" y2="196.78" stroke="#111" stroke-width="1.2" />
<line x1="311.20" y1="193.63" x2="315.80" y2="193.63" stroke="#111" stroke-width="1.6" />
<line x1="311.20" y1="196.78" x2="315.80" y2="196.78" stroke="#111" stroke-width="1.6" />
<path d="M310.64 195.21 L313.50 193.01 L316.36 195.21 L313.50 197.41Z" fill="#c9d23c"/>
<line x1="329.10" y1="187.81" x2="329.10" y2="192.53" stroke="#111" stroke-width="1.2" />
<line x1="326.80" y1="187.81" x2="331.40" y2="187.81" stroke="#111" stroke-width="1.6" />
<line x1="326.80" y1="192.53" x2="331.40" y2="192.53" stroke="#111" stroke-width="1.6" />
<path d="M326.24 190.17 L329.10 187.97 L331.96 190.17 L329.10 192.37Z" fill="#c9d23c"/>
<line x1="345.40" y1="175.22" x2="345.40" y2="179.94" stroke="#111" stroke-width="1.2" />
<line x1="343.10" y1="175.22" x2="347.70" y2="175.22" stroke="#111" stroke-width="1.6" />
<line x1="343.10" y1="179.94" x2="347.70" y2="179.94" stroke="#111" stroke-width="1.6" />
<path d="M342.54 177.58 L345.40 175.38 L348.26 177.58 L345.40 179.78Z" fill="#c9d23c"/>
<line x1="360.80" y1="162.62" x2="360.80" y2="168.92" stroke="#111" stroke-width="1.2" />
<line x1="358.50" y1="162.62" x2="363.10" y2="162.62" stroke="#111" stroke-width="1.6" />
<line x1="358.50" y1="168.92" x2="363.10" y2="168.92" stroke="#111" stroke-width="1.6" />
<path d="M357.94 165.77 L360.80 163.57 L363.66 165.77 L360.80 167.97Z" fill="#c9d23c"/>
<line x1="376.50" y1="129.88" x2="376.50" y2="139.33" stroke="#111" stroke-width="1.2" />
<line x1="374.20" y1="129.88" x2="378.80" y2="129.88" stroke="#111" stroke-width="1.6" />
<line x1="374.20" y1="139.33" x2="378.80" y2="139.33" stroke="#111" stroke-width="1.6" />
<path d="M373.64 134.61 L376.50 132.41 L379.36 134.61 L376.50 136.81Z" fill="#c9d23c"/>
<line x1="313.50" y1="193.47" x2="313.50" y2="196.62" stroke="#111" stroke-width="1.2" />
<line x1="311.20" y1="193.47" x2="315.80" y2="193.47" stroke="#111" stroke-width="1.6" />
<line x1="311.20" y1="196.62" x2="315.80" y2="196.62" stroke="#111" stroke-width="1.6" />
<path d="M311.08 193.29 L315.92 193.29 L313.50 197.47Z" fill="#a82424"/>
<line x1="329.10" y1="192.53" x2="329.10" y2="195.68" stroke="#111" stroke-width="1.2" />
<line x1="326.80" y1="192.53" x2="331.40" y2="192.53" stroke="#111" stroke-width="1.6" />
<line x1="326.80" y1="195.68" x2="331.40" y2="195.68" stroke="#111" stroke-width="1.6" />
<path d="M326.68 192.34 L331.52 192.34 L329.10 196.52Z" fill="#a82424"/>
<line x1="345.40" y1="187.81" x2="345.40" y2="192.53" stroke="#111" stroke-width="1.2" />
<line x1="343.10" y1="187.81" x2="347.70" y2="187.81" stroke="#111" stroke-width="1.6" />
<line x1="343.10" y1="192.53" x2="347.70" y2="192.53" stroke="#111" stroke-width="1.6" />
<path d="M342.98 188.41 L347.82 188.41 L345.40 192.59Z" fill="#a82424"/>
<line x1="360.80" y1="180.57" x2="360.80" y2="187.49" stroke="#111" stroke-width="1.2" />
<line x1="358.50" y1="180.57" x2="363.10" y2="180.57" stroke="#111" stroke-width="1.6" />
<line x1="358.50" y1="187.49" x2="363.10" y2="187.49" stroke="#111" stroke-width="1.6" />
<path d="M358.38 182.27 L363.22 182.27 L360.80 186.45Z" fill="#a82424"/>
<line x1="376.50" y1="170.65" x2="376.50" y2="178.52" stroke="#111" stroke-width="1.2" />
<line x1="374.20" y1="170.65" x2="378.80" y2="170.65" stroke="#111" stroke-width="1.6" />
<line x1="374.20" y1="178.52" x2="378.80" y2="178.52" stroke="#111" stroke-width="1.6" />
<path d="M374.08 172.83 L378.92 172.83 L376.50 177.01Z" fill="#a82424"/>
<text x="345.40" y="201.70" font-size="9.5" stroke="#666" stroke-width="0.6" text-anchor="middle" fill="#666" >*</text>
<text x="360.80" y="195.80" font-size="9.5" stroke="#666" stroke-width="0.6" text-anchor="middle" fill="#666" >*</text>
<text x="376.50" y="188.40" font-size="9.5" stroke="#666" stroke-width="0.6" text-anchor="middle" fill="#666" >*</text>
<text x="346.00" y="112.39" font-size="9.2" stroke="#1a1a1a" stroke-width="0.3" font-weight="bold" text-anchor="middle" textLength="37.50" lengthAdjust="spacingAndGlyphs" >SW1990</text>
<line x1="315.40" y1="126.00" x2="324.80" y2="126.00" stroke="#93b3d6" stroke-width="1.8" />
<path d="M317.50 126.00 L320.10 124.00 L322.70 126.00 L320.10 128.00Z" fill="#93b3d6"/>
<text x="328.20" y="128.79" font-size="7.8" stroke="#222" stroke-width="0.38" fill="#222" >Mock</text>
<line x1="315.40" y1="135.00" x2="324.80" y2="135.00" stroke="#c9d23c" stroke-width="1.8" />
<path d="M317.50 135.00 L320.10 133.00 L322.70 135.00 L320.10 137.00Z" fill="#c9d23c"/>
<text x="328.20" y="137.79" font-size="7.8" stroke="#222" stroke-width="0.38" fill="#222" >Control</text>
<line x1="315.40" y1="144.80" x2="324.80" y2="144.80" stroke="#a82424" stroke-width="1.8" />
<path d="M317.90 143.20 L322.30 143.20 L320.10 147.00Z" fill="#a82424"/>
<text x="328.20" y="147.59" font-size="7.8" stroke="#222" stroke-width="0.38" fill="#222" >siSTK33</text>
<text x="286.00" y="156.30" font-size="9.8" text-anchor="middle" fill="#222" stroke="#222" stroke-width="0.4" transform="rotate(-90 286.00 156.30)" textLength="97.50" lengthAdjust="spacingAndGlyphs">Absorbance (450 mm)</text>
<text x="352.60" y="222.85" font-size="10.2" stroke="#1a1a1a" stroke-width="0.45" text-anchor="middle" >Days</text>
<line x1="404.80" y1="121.70" x2="404.80" y2="201.00" stroke="#222" stroke-width="1.2" />
<line x1="404.80" y1="201.00" x2="482.50" y2="201.00" stroke="#222" stroke-width="1.2" />
<line x1="402.00" y1="201.00" x2="404.80" y2="201.00" stroke="#222" stroke-width="1.1" />
<text x="400.80" y="204.51" font-size="9.8" stroke="#1a1a1a" stroke-width="0.5" text-anchor="end" >0</text>
<line x1="402.00" y1="185.14" x2="404.80" y2="185.14" stroke="#222" stroke-width="1.1" />
<text x="400.80" y="188.65" font-size="9.8" stroke="#1a1a1a" stroke-width="0.5" text-anchor="end" >2</text>
<line x1="402.00" y1="169.28" x2="404.80" y2="169.28" stroke="#222" stroke-width="1.1" />
<text x="400.80" y="172.79" font-size="9.8" stroke="#1a1a1a" stroke-width="0.5" text-anchor="end" >4</text>
<line x1="402.00" y1="153.42" x2="404.80" y2="153.42" stroke="#222" stroke-width="1.1" />
<text x="400.80" y="156.93" font-size="9.8" stroke="#1a1a1a" stroke-width="0.5" text-anchor="end" >6</text>
<line x1="402.00" y1="137.56" x2="404.80" y2="137.56" stroke="#222" stroke-width="1.1" />
<text x="400.80" y="141.07" font-size="9.8" stroke="#1a1a1a" stroke-width="0.5" text-anchor="end" >8</text>
<line x1="402.00" y1="121.70" x2="404.80" y2="121.70" stroke="#222" stroke-width="1.1" />
<text x="400.80" y="125.21" font-size="9.8" stroke="#1a1a1a" stroke-width="0.5" text-anchor="end" >10</text>
<line x1="412.20" y1="201.00" x2="412.20" y2="203.80" stroke="#222" stroke-width="1.1" />
<text x="412.20" y="213.88" font-size="10.0" stroke="#1a1a1a" stroke-width="0.45" text-anchor="middle" >1</text>
<line x1="427.90" y1="201.00" x2="427.90" y2="203.80" stroke="#222" stroke-width="1.1" />
<text x="427.90" y="213.88" font-size="10.0" stroke="#1a1a1a" stroke-width="0.45" text-anchor="middle" >2</text>
<line x1="443.90" y1="201.00" x2="443.90" y2="203.80" stroke="#222" stroke-width="1.1" />
<text x="443.90" y="213.88" font-size="10.0" stroke="#1a1a1a" stroke-width="0.45" text-anchor="middle" >3</text>
<line x1="459.60" y1="201.00" x2="459.60" y2="203.80" stroke="#222" stroke-width="1.1" />
<text x="459.60" y="213.88" font-size="10.0" stroke="#1a1a1a" stroke-width="0.45" text-anchor="middle" >4</text>
<line x1="475.20" y1="201.00" x2="475.20" y2="203.80" stroke="#222" stroke-width="1.1" />
<text x="475.20" y="213.88" font-size="10.0" stroke="#1a1a1a" stroke-width="0.45" text-anchor="middle" >5</text>
<path d="M412.20 197.43 C415.34 196.72 421.56 196.32 427.90 193.86 C434.24 191.40 437.56 189.74 443.90 185.14 C450.24 180.54 453.34 177.53 459.60 170.87 C465.86 164.20 472.08 155.64 475.20 151.83 " fill="none" stroke="#93b3d6" stroke-width="1.7" stroke-linejoin="round"/>
<path d="M412.20 197.43 C415.34 196.80 421.56 196.24 427.90 194.26 C434.24 192.28 437.56 191.88 443.90 187.52 C450.24 183.16 453.34 181.65 459.60 172.45 C465.86 163.25 472.08 147.71 475.20 141.53 " fill="none" stroke="#c9d23c" stroke-width="1.7" stroke-linejoin="round"/>
<path d="M412.20 197.99 C415.34 197.92 421.56 198.45 427.90 197.67 C434.24 196.89 437.56 196.16 443.90 194.10 C450.24 192.04 453.34 191.45 459.60 187.36 C465.86 183.27 472.08 176.39 475.20 173.64 " fill="none" stroke="#a82424" stroke-width="1.7" stroke-linejoin="round"/>
<line x1="412.20" y1="195.85" x2="412.20" y2="199.02" stroke="#111" stroke-width="1.2" />
<line x1="409.90" y1="195.85" x2="414.50" y2="195.85" stroke="#111" stroke-width="1.6" />
<line x1="409.90" y1="199.02" x2="414.50" y2="199.02" stroke="#111" stroke-width="1.6" />
<path d="M409.34 197.43 L412.20 195.23 L415.06 197.43 L412.20 199.63Z" fill="#93b3d6"/>
<line x1="427.90" y1="190.69" x2="427.90" y2="197.03" stroke="#111" stroke-width="1.2" />
<line x1="425.60" y1="190.69" x2="430.20" y2="190.69" stroke="#111" stroke-width="1.6" />
<line x1="425.60" y1="197.03" x2="430.20" y2="197.03" stroke="#111" stroke-width="1.6" />
<path d="M425.04 193.86 L427.90 191.66 L430.76 193.86 L427.90 196.06Z" fill="#93b3d6"/>
<line x1="443.90" y1="181.17" x2="443.90" y2="189.10" stroke="#111" stroke-width="1.2" />
<line x1="441.60" y1="181.17" x2="446.20" y2="181.17" stroke="#111" stroke-width="1.6" />
<line x1="441.60" y1="189.10" x2="446.20" y2="189.10" stroke="#111" stroke-width="1.6" />
<path d="M441.04 185.14 L443.90 182.94 L446.76 185.14 L443.90 187.34Z" fill="#93b3d6"/>
<line x1="459.60" y1="166.11" x2="459.60" y2="175.62" stroke="#111" stroke-width="1.2" />
<line x1="457.30" y1="166.11" x2="461.90" y2="166.11" stroke="#111" stroke-width="1.6" />
<line x1="457.30" y1="175.62" x2="461.90" y2="175.62" stroke="#111" stroke-width="1.6" />
<path d="M456.74 170.87 L459.60 168.67 L462.46 170.87 L459.60 173.07Z" fill="#93b3d6"/>
<line x1="475.20" y1="147.08" x2="475.20" y2="156.59" stroke="#111" stroke-width="1.2" />
<line x1="472.90" y1="147.08" x2="477.50" y2="147.08" stroke="#111" stroke-width="1.6" />
<line x1="472.90" y1="156.59" x2="477.50" y2="156.59" stroke="#111" stroke-width="1.6" />
<path d="M472.34 151.83 L475.20 149.63 L478.06 151.83 L475.20 154.03Z" fill="#93b3d6"/>
<line x1="412.20" y1="195.85" x2="412.20" y2="199.02" stroke="#111" stroke-width="1.2" />
<line x1="409.90" y1="195.85" x2="414.50" y2="195.85" stroke="#111" stroke-width="1.6" />
<line x1="409.90" y1="199.02" x2="414.50" y2="199.02" stroke="#111" stroke-width="1.6" />
<path d="M409.34 197.43 L412.20 195.23 L415.06 197.43 L412.20 199.63Z" fill="#c9d23c"/>
<line x1="427.90" y1="191.09" x2="427.90" y2="197.43" stroke="#111" stroke-width="1.2" />
<line x1="425.60" y1="191.09" x2="430.20" y2="191.09" stroke="#111" stroke-width="1.6" />
<line x1="425.60" y1="197.43" x2="430.20" y2="197.43" stroke="#111" stroke-width="1.6" />
<path d="M425.04 194.26 L427.90 192.06 L430.76 194.26 L427.90 196.46Z" fill="#c9d23c"/>
<line x1="443.90" y1="183.55" x2="443.90" y2="191.48" stroke="#111" stroke-width="1.2" />
<line x1="441.60" y1="183.55" x2="446.20" y2="183.55" stroke="#111" stroke-width="1.6" />
<line x1="441.60" y1="191.48" x2="446.20" y2="191.48" stroke="#111" stroke-width="1.6" />
<path d="M441.04 187.52 L443.90 185.32 L446.76 187.52 L443.90 189.72Z" fill="#c9d23c"/>
<line x1="459.60" y1="167.69" x2="459.60" y2="177.21" stroke="#111" stroke-width="1.2" />
<line x1="457.30" y1="167.69" x2="461.90" y2="167.69" stroke="#111" stroke-width="1.6" />
<line x1="457.30" y1="177.21" x2="461.90" y2="177.21" stroke="#111" stroke-width="1.6" />
<path d="M456.74 172.45 L459.60 170.25 L462.46 172.45 L459.60 174.65Z" fill="#c9d23c"/>
<line x1="475.20" y1="135.97" x2="475.20" y2="147.08" stroke="#111" stroke-width="1.2" />
<line x1="472.90" y1="135.97" x2="477.50" y2="135.97" stroke="#111" stroke-width="1.6" />
<line x1="472.90" y1="147.08" x2="477.50" y2="147.08" stroke="#111" stroke-width="1.6" />
<path d="M472.34 141.53 L475.20 139.33 L478.06 141.53 L475.20 143.72Z" fill="#c9d23c"/>
<line x1="412.20" y1="196.40" x2="412.20" y2="199.57" stroke="#111" stroke-width="1.2" />
<line x1="409.90" y1="196.40" x2="414.50" y2="196.40" stroke="#111" stroke-width="1.6" />
<line x1="409.90" y1="199.57" x2="414.50" y2="199.57" stroke="#111" stroke-width="1.6" />
<path d="M409.78 196.23 L414.62 196.23 L412.20 200.41Z" fill="#a82424"/>
<line x1="427.90" y1="194.50" x2="427.90" y2="200.84" stroke="#111" stroke-width="1.2" />
<line x1="425.60" y1="194.50" x2="430.20" y2="194.50" stroke="#111" stroke-width="1.6" />
<line x1="425.60" y1="200.84" x2="430.20" y2="200.84" stroke="#111" stroke-width="1.6" />
<path d="M425.48 195.91 L430.32 195.91 L427.90 200.09Z" fill="#a82424"/>
<line x1="443.90" y1="190.93" x2="443.90" y2="197.27" stroke="#111" stroke-width="1.2" />
<line x1="441.60" y1="190.93" x2="446.20" y2="190.93" stroke="#111" stroke-width="1.6" />
<line x1="441.60" y1="197.27" x2="446.20" y2="197.27" stroke="#111" stroke-width="1.6" />
<path d="M441.48 192.34 L446.32 192.34 L443.90 196.52Z" fill="#a82424"/>
<line x1="459.60" y1="183.40" x2="459.60" y2="191.33" stroke="#111" stroke-width="1.2" />
<line x1="457.30" y1="183.40" x2="461.90" y2="183.40" stroke="#111" stroke-width="1.6" />
<line x1="457.30" y1="191.33" x2="461.90" y2="191.33" stroke="#111" stroke-width="1.6" />
<path d="M457.18 185.60 L462.02 185.60 L459.60 189.78Z" fill="#a82424"/>
<line x1="475.20" y1="168.88" x2="475.20" y2="178.40" stroke="#111" stroke-width="1.2" />
<line x1="472.90" y1="168.88" x2="477.50" y2="168.88" stroke="#111" stroke-width="1.6" />
<line x1="472.90" y1="178.40" x2="477.50" y2="178.40" stroke="#111" stroke-width="1.6" />
<path d="M472.78 171.88 L477.62 171.88 L475.20 176.06Z" fill="#a82424"/>
<text x="459.60" y="200.70" font-size="9.5" stroke="#666" stroke-width="0.6" text-anchor="middle" fill="#666" >*</text>
<text x="475.20" y="185.10" font-size="9.5" stroke="#666" stroke-width="0.6" text-anchor="middle" fill="#666" >*</text>
<text x="442.30" y="112.79" font-size="9.2" stroke="#1a1a1a" stroke-width="0.3" font-weight="bold" text-anchor="middle" textLength="32.30" lengthAdjust="spacingAndGlyphs" >PANC-1</text>
<line x1="414.60" y1="127.20" x2="424.40" y2="127.20" stroke="#93b3d6" stroke-width="1.8" />
<path d="M416.90 127.20 L419.50 125.20 L422.10 127.20 L419.50 129.20Z" fill="#93b3d6"/>
<text x="427.30" y="129.99" font-size="7.8" stroke="#222" stroke-width="0.38" fill="#222" >Mock</text>
<line x1="414.60" y1="135.80" x2="424.40" y2="135.80" stroke="#c9d23c" stroke-width="1.8" />
<path d="M416.90 135.80 L419.50 133.80 L422.10 135.80 L419.50 137.80Z" fill="#c9d23c"/>
<text x="427.30" y="138.59" font-size="7.8" stroke="#222" stroke-width="0.38" fill="#222" >Control</text>
<line x1="414.60" y1="145.20" x2="424.40" y2="145.20" stroke="#a82424" stroke-width="1.8" />
<path d="M417.30 143.60 L421.70 143.60 L419.50 147.40Z" fill="#a82424"/>
<text x="427.30" y="147.99" font-size="7.8" stroke="#222" stroke-width="0.38" fill="#222" >siSTK33</text>
<text x="444.50" y="222.85" font-size="10.2" stroke="#1a1a1a" stroke-width="0.45" text-anchor="middle" >Days</text>
<line x1="40.75" y1="258.25" x2="40.75" y2="343.75" stroke="#222" stroke-width="1.2" />
<line x1="40.75" y1="343.75" x2="125.50" y2="343.75" stroke="#222" stroke-width="1.2" />
<line x1="37.95" y1="343.75" x2="40.75" y2="343.75" stroke="#222" stroke-width="1.1" />
<text x="36.75" y="347.26" font-size="9.8" stroke="#1a1a1a" stroke-width="0.45" text-anchor="end" >0</text>
<line x1="37.95" y1="315.12" x2="40.75" y2="315.12" stroke="#222" stroke-width="1.1" />
<text x="36.75" y="318.63" font-size="9.8" stroke="#1a1a1a" stroke-width="0.45" text-anchor="end" >0.5</text>
<line x1="37.95" y1="286.50" x2="40.75" y2="286.50" stroke="#222" stroke-width="1.1" />
<text x="36.75" y="290.01" font-size="9.8" stroke="#1a1a1a" stroke-width="0.45" text-anchor="end" >1.0</text>
<line x1="37.95" y1="257.88" x2="40.75" y2="257.88" stroke="#222" stroke-width="1.1" />
<text x="36.75" y="261.38" font-size="9.8" stroke="#1a1a1a" stroke-width="0.45" text-anchor="end" >1.5</text>
<line x1="55.00" y1="316.27" x2="55.00" y2="322.00" stroke="#111" stroke-width="1.3" />
<line x1="50.50" y1="316.27" x2="59.50" y2="316.27" stroke="#111" stroke-width="1.5" />
<rect x="45.00" y="322.00" width="20.00" height="21.75" fill="#0d0d0d" />
<line x1="55.00" y1="343.75" x2="55.00" y2="346.25" stroke="#222" stroke-width="1.1" />
<line x1="83.00" y1="320.85" x2="83.00" y2="326.57" stroke="#111" stroke-width="1.3" />
<line x1="78.50" y1="320.85" x2="87.50" y2="320.85" stroke="#111" stroke-width="1.5" />
<rect x="73.00" y="326.57" width="20.00" height="17.18" fill="#0d0d0d" />
<line x1="83.00" y1="343.75" x2="83.00" y2="346.25" stroke="#222" stroke-width="1.1" />
<line x1="112.25" y1="281.92" x2="112.25" y2="290.51" stroke="#111" stroke-width="1.3" />
<line x1="107.75" y1="281.92" x2="116.75" y2="281.92" stroke="#111" stroke-width="1.5" />
<rect x="102.50" y="290.51" width="19.50" height="53.24" fill="#0d0d0d" />
<line x1="112.25" y1="343.75" x2="112.25" y2="346.25" stroke="#222" stroke-width="1.1" />
<text x="57.40" y="351.95" font-size="9.8" stroke="#1a1a1a" stroke-width="0.45" text-anchor="end" transform="rotate(-45 57.40 351.95)" >Mock</text>
<text x="85.40" y="351.95" font-size="9.8" stroke="#1a1a1a" stroke-width="0.45" text-anchor="end" transform="rotate(-45 85.40 351.95)" >Control</text>
<text x="114.65" y="351.95" font-size="9.8" stroke="#1a1a1a" stroke-width="0.45" text-anchor="end" transform="rotate(-45 114.65 351.95)" >pSTK33</text>
<text x="80.00" y="246.21" font-size="8.4" stroke="#1a1a1a" stroke-width="0.3" font-weight="bold" text-anchor="middle" textLength="30.00" lengthAdjust="spacingAndGlyphs" >AsPC-1</text>
<path d="M43.75 274.00 Q43.75 270.50 46.75 270.50 L114.50 270.50 Q117.50 270.50 117.50 274.00" fill="none" stroke="#555" stroke-width="1.2"/>
<line x1="80.62" y1="270.50" x2="80.62" y2="263.80" stroke="#555" stroke-width="1.2" />
<text x="51.25" y="285.30" font-size="9.2" fill="#1a1a1a" stroke="#1a1a1a" stroke-width="0.4" textLength="38.80" lengthAdjust="spacingAndGlyphs"><tspan font-style="italic">P</tspan> = 0.000</text>
<text x="113.00" y="283.10" font-size="9.5" stroke="#555" stroke-width="0.6" text-anchor="middle" fill="#555" >*</text>
<text x="17.50" y="298.80" font-size="9.6" text-anchor="middle" fill="#222" stroke="#222" stroke-width="0.4" transform="rotate(-90 17.50 298.80)" textLength="77.50" lengthAdjust="spacingAndGlyphs">Tumor weight (g)</text>
<line x1="151.25" y1="257.00" x2="151.25" y2="343.00" stroke="#222" stroke-width="1.2" />
<line x1="151.25" y1="343.00" x2="235.00" y2="343.00" stroke="#222" stroke-width="1.2" />
<line x1="148.45" y1="343.00" x2="151.25" y2="343.00" stroke="#222" stroke-width="1.1" />
<text x="147.25" y="346.51" font-size="9.8" stroke="#1a1a1a" stroke-width="0.45" text-anchor="end" >0</text>
<line x1="148.45" y1="325.80" x2="151.25" y2="325.80" stroke="#222" stroke-width="1.1" />
<text x="147.25" y="329.31" font-size="9.8" stroke="#1a1a1a" stroke-width="0.45" text-anchor="end" >0.2</text>
<line x1="148.45" y1="308.60" x2="151.25" y2="308.60" stroke="#222" stroke-width="1.1" />
<text x="147.25" y="312.11" font-size="9.8" stroke="#1a1a1a" stroke-width="0.45" text-anchor="end" >0.4</text>
<line x1="148.45" y1="291.40" x2="151.25" y2="291.40" stroke="#222" stroke-width="1.1" />
<text x="147.25" y="294.91" font-size="9.8" stroke="#1a1a1a" stroke-width="0.45" text-anchor="end" >0.6</text>
<line x1="148.45" y1="274.20" x2="151.25" y2="274.20" stroke="#222" stroke-width="1.1" />
<text x="147.25" y="277.71" font-size="9.8" stroke="#1a1a1a" stroke-width="0.45" text-anchor="end" >0.8</text>
<line x1="148.45" y1="257.00" x2="151.25" y2="257.00" stroke="#222" stroke-width="1.1" />
<text x="147.25" y="260.51" font-size="9.8" stroke="#1a1a1a" stroke-width="0.45" text-anchor="end" >1.0</text>
<line x1="164.75" y1="268.18" x2="164.75" y2="280.22" stroke="#111" stroke-width="1.3" />
<line x1="160.25" y1="268.18" x2="169.25" y2="268.18" stroke="#111" stroke-width="1.5" />
<rect x="155.00" y="280.22" width="19.50" height="62.78" fill="#0d0d0d" />
<line x1="164.75" y1="343.00" x2="164.75" y2="345.50" stroke="#222" stroke-width="1.1" />
<line x1="192.75" y1="274.20" x2="192.75" y2="282.80" stroke="#111" stroke-width="1.3" />
<line x1="188.25" y1="274.20" x2="197.25" y2="274.20" stroke="#111" stroke-width="1.5" />
<rect x="183.00" y="282.80" width="19.50" height="60.20" fill="#0d0d0d" />
<line x1="192.75" y1="343.00" x2="192.75" y2="345.50" stroke="#222" stroke-width="1.1" />
<line x1="221.62" y1="312.90" x2="221.62" y2="319.78" stroke="#111" stroke-width="1.3" />
<line x1="217.12" y1="312.90" x2="226.12" y2="312.90" stroke="#111" stroke-width="1.5" />
<rect x="212.00" y="319.78" width="19.25" height="23.22" fill="#0d0d0d" />
<line x1="221.62" y1="343.00" x2="221.62" y2="345.50" stroke="#222" stroke-width="1.1" />
<text x="167.15" y="351.20" font-size="9.8" stroke="#1a1a1a" stroke-width="0.45" text-anchor="end" transform="rotate(-45 167.15 351.20)" >Mock</text>
<text x="195.15" y="351.20" font-size="9.8" stroke="#1a1a1a" stroke-width="0.45" text-anchor="end" transform="rotate(-45 195.15 351.20)" >Control</text>
<text x="224.00" y="351.20" font-size="9.8" stroke="#1a1a1a" stroke-width="0.45" text-anchor="end" transform="rotate(-45 224.00 351.20)" >siSTK33</text>
<text x="194.40" y="246.21" font-size="8.4" stroke="#1a1a1a" stroke-width="0.3" font-weight="bold" text-anchor="middle" textLength="36.30" lengthAdjust="spacingAndGlyphs" >SW1990</text>
<path d="M157.50 265.50 Q157.50 262.00 160.50 262.00 L227.75 262.00 Q230.75 262.00 230.75 265.50" fill="none" stroke="#555" stroke-width="1.2"/>
<line x1="194.12" y1="262.00" x2="194.12" y2="254.50" stroke="#555" stroke-width="1.2" />
<text x="200.75" y="277.10" font-size="9.2" fill="#1a1a1a" stroke="#1a1a1a" stroke-width="0.4" textLength="38.80" lengthAdjust="spacingAndGlyphs"><tspan font-style="italic">P</tspan> = 0.001</text>
<text x="221.75" y="315.60" font-size="9.5" stroke="#555" stroke-width="0.6" text-anchor="middle" fill="#555" >*</text>
<line x1="306.75" y1="256.25" x2="306.75" y2="342.00" stroke="#222" stroke-width="1.2" />
<line x1="306.75" y1="342.00" x2="391.50" y2="342.00" stroke="#222" stroke-width="1.2" />
<line x1="302.75" y1="342.00" x2="306.75" y2="342.00" stroke="#222" stroke-width="1.1" />
<text x="301.35" y="345.58" font-size="10.0" stroke="#1a1a1a" stroke-width="0.5" text-anchor="end" >0</text>
<line x1="302.75" y1="320.56" x2="306.75" y2="320.56" stroke="#222" stroke-width="1.1" />
<text x="301.35" y="324.14" font-size="10.0" stroke="#1a1a1a" stroke-width="0.5" text-anchor="end" >50</text>
<line x1="302.75" y1="299.12" x2="306.75" y2="299.12" stroke="#222" stroke-width="1.1" />
<text x="301.35" y="302.70" font-size="10.0" stroke="#1a1a1a" stroke-width="0.5" text-anchor="end" >100</text>
<line x1="302.75" y1="277.69" x2="306.75" y2="277.69" stroke="#222" stroke-width="1.1" />
<text x="301.35" y="281.27" font-size="10.0" stroke="#1a1a1a" stroke-width="0.5" text-anchor="end" >150</text>
<line x1="302.75" y1="256.25" x2="306.75" y2="256.25" stroke="#222" stroke-width="1.1" />
<text x="301.35" y="259.83" font-size="10.0" stroke="#1a1a1a" stroke-width="0.5" text-anchor="end" >200</text>
<line x1="315.00" y1="342.00" x2="315.00" y2="344.80" stroke="#222" stroke-width="1.1" />
<text x="315.00" y="355.48" font-size="10.0" stroke="#1a1a1a" stroke-width="0.45" text-anchor="middle" >1</text>
<line x1="332.40" y1="342.00" x2="332.40" y2="344.80" stroke="#222" stroke-width="1.1" />
<text x="332.40" y="355.48" font-size="10.0" stroke="#1a1a1a" stroke-width="0.45" text-anchor="middle" >2</text>
<line x1="349.20" y1="342.00" x2="349.20" y2="344.80" stroke="#222" stroke-width="1.1" />
<text x="349.20" y="355.48" font-size="10.0" stroke="#1a1a1a" stroke-width="0.45" text-anchor="middle" >3</text>
<line x1="366.50" y1="342.00" x2="366.50" y2="344.80" stroke="#222" stroke-width="1.1" />
<text x="366.50" y="355.48" font-size="10.0" stroke="#1a1a1a" stroke-width="0.45" text-anchor="middle" >4</text>
<line x1="383.50" y1="342.00" x2="383.50" y2="344.80" stroke="#222" stroke-width="1.1" />
<text x="383.50" y="355.48" font-size="10.0" stroke="#1a1a1a" stroke-width="0.45" text-anchor="middle" >5</text>
<path d="M315.00 342.00 C318.48 341.31 325.56 340.28 332.40 338.57 C339.24 336.86 342.38 336.17 349.20 333.43 C356.02 330.68 359.64 328.45 366.50 324.85 C373.36 321.25 380.10 317.30 383.50 315.42 " fill="none" stroke="#93b3d6" stroke-width="1.7" stroke-linejoin="round"/>
<path d="M315.00 342.00 C318.48 341.40 325.56 340.28 332.40 339.00 C339.24 337.71 342.38 337.54 349.20 335.57 C356.02 333.60 359.64 332.14 366.50 329.14 C373.36 326.14 380.10 322.28 383.50 320.56 " fill="none" stroke="#c9d23c" stroke-width="1.7" stroke-linejoin="round"/>
<path d="M315.00 342.00 C318.48 340.97 325.56 339.86 332.40 336.86 C339.24 333.85 342.38 332.57 349.20 326.99 C356.02 321.42 359.64 316.96 366.50 308.99 C373.36 301.01 380.10 291.49 383.50 287.12 " fill="none" stroke="#a82424" stroke-width="1.7" stroke-linejoin="round"/>
<path d="M312.14 342.00 L315.00 339.80 L317.86 342.00 L315.00 344.20Z" fill="#93b3d6"/>
<line x1="332.40" y1="337.71" x2="332.40" y2="339.43" stroke="#111" stroke-width="1.2" />
<line x1="330.10" y1="337.71" x2="334.70" y2="337.71" stroke="#111" stroke-width="1.6" />
<line x1="330.10" y1="339.43" x2="334.70" y2="339.43" stroke="#111" stroke-width="1.6" />
<path d="M329.54 338.57 L332.40 336.37 L335.26 338.57 L332.40 340.77Z" fill="#93b3d6"/>
<line x1="349.20" y1="330.85" x2="349.20" y2="336.00" stroke="#111" stroke-width="1.2" />
<line x1="346.90" y1="330.85" x2="351.50" y2="330.85" stroke="#111" stroke-width="1.6" />
<line x1="346.90" y1="336.00" x2="351.50" y2="336.00" stroke="#111" stroke-width="1.6" />
<path d="M346.34 333.43 L349.20 331.23 L352.06 333.43 L349.20 335.62Z" fill="#93b3d6"/>
<line x1="366.50" y1="320.56" x2="366.50" y2="329.14" stroke="#111" stroke-width="1.2" />
<line x1="364.20" y1="320.56" x2="368.80" y2="320.56" stroke="#111" stroke-width="1.6" />
<line x1="364.20" y1="329.14" x2="368.80" y2="329.14" stroke="#111" stroke-width="1.6" />
<path d="M363.64 324.85 L366.50 322.65 L369.36 324.85 L366.50 327.05Z" fill="#93b3d6"/>
<line x1="383.50" y1="310.27" x2="383.50" y2="320.56" stroke="#111" stroke-width="1.2" />
<line x1="381.20" y1="310.27" x2="385.80" y2="310.27" stroke="#111" stroke-width="1.6" />
<line x1="381.20" y1="320.56" x2="385.80" y2="320.56" stroke="#111" stroke-width="1.6" />
<path d="M380.64 315.42 L383.50 313.22 L386.36 315.42 L383.50 317.62Z" fill="#93b3d6"/>
<path d="M312.14 342.00 L315.00 339.80 L317.86 342.00 L315.00 344.20Z" fill="#c9d23c"/>
<line x1="332.40" y1="338.14" x2="332.40" y2="339.86" stroke="#111" stroke-width="1.2" />
<line x1="330.10" y1="338.14" x2="334.70" y2="338.14" stroke="#111" stroke-width="1.6" />
<line x1="330.10" y1="339.86" x2="334.70" y2="339.86" stroke="#111" stroke-width="1.6" />
<path d="M329.54 339.00 L332.40 336.80 L335.26 339.00 L332.40 341.20Z" fill="#c9d23c"/>
<line x1="349.20" y1="332.14" x2="349.20" y2="339.00" stroke="#111" stroke-width="1.2" />
<line x1="346.90" y1="332.14" x2="351.50" y2="332.14" stroke="#111" stroke-width="1.6" />
<line x1="346.90" y1="339.00" x2="351.50" y2="339.00" stroke="#111" stroke-width="1.6" />
<path d="M346.34 335.57 L349.20 333.37 L352.06 335.57 L349.20 337.77Z" fill="#c9d23c"/>
<line x1="366.50" y1="323.99" x2="366.50" y2="334.28" stroke="#111" stroke-width="1.2" />
<line x1="364.20" y1="323.99" x2="368.80" y2="323.99" stroke="#111" stroke-width="1.6" />
<line x1="364.20" y1="334.28" x2="368.80" y2="334.28" stroke="#111" stroke-width="1.6" />
<path d="M363.64 329.14 L366.50 326.94 L369.36 329.14 L366.50 331.34Z" fill="#c9d23c"/>
<line x1="383.50" y1="314.13" x2="383.50" y2="326.99" stroke="#111" stroke-width="1.2" />
<line x1="381.20" y1="314.13" x2="385.80" y2="314.13" stroke="#111" stroke-width="1.6" />
<line x1="381.20" y1="326.99" x2="385.80" y2="326.99" stroke="#111" stroke-width="1.6" />
<path d="M380.64 320.56 L383.50 318.36 L386.36 320.56 L383.50 322.76Z" fill="#c9d23c"/>
<path d="M312.58 343.76 L317.42 343.76 L315.00 339.58Z" fill="#a82424"/>
<line x1="332.40" y1="336.00" x2="332.40" y2="337.71" stroke="#111" stroke-width="1.2" />
<line x1="330.10" y1="336.00" x2="334.70" y2="336.00" stroke="#111" stroke-width="1.6" />
<line x1="330.10" y1="337.71" x2="334.70" y2="337.71" stroke="#111" stroke-width="1.6" />
<path d="M329.98 338.62 L334.82 338.62 L332.40 334.44Z" fill="#a82424"/>
<line x1="349.20" y1="323.56" x2="349.20" y2="330.42" stroke="#111" stroke-width="1.2" />
<line x1="346.90" y1="323.56" x2="351.50" y2="323.56" stroke="#111" stroke-width="1.6" />
<line x1="346.90" y1="330.42" x2="351.50" y2="330.42" stroke="#111" stroke-width="1.6" />
<path d="M346.78 328.75 L351.62 328.75 L349.20 324.57Z" fill="#a82424"/>
<line x1="366.50" y1="302.98" x2="366.50" y2="314.99" stroke="#111" stroke-width="1.2" />
<line x1="364.20" y1="302.98" x2="368.80" y2="302.98" stroke="#111" stroke-width="1.6" />
<line x1="364.20" y1="314.99" x2="368.80" y2="314.99" stroke="#111" stroke-width="1.6" />
<path d="M364.08 310.75 L368.92 310.75 L366.50 306.57Z" fill="#a82424"/>
<line x1="383.50" y1="276.40" x2="383.50" y2="297.84" stroke="#111" stroke-width="1.2" />
<line x1="381.20" y1="276.40" x2="385.80" y2="276.40" stroke="#111" stroke-width="1.6" />
<line x1="381.20" y1="297.84" x2="385.80" y2="297.84" stroke="#111" stroke-width="1.6" />
<path d="M381.08 288.88 L385.92 288.88 L383.50 284.70Z" fill="#a82424"/>
<text x="349.20" y="326.10" font-size="9.5" stroke="#666" stroke-width="0.6" text-anchor="middle" fill="#666" >*</text>
<text x="366.50" y="307.10" font-size="9.5" stroke="#666" stroke-width="0.6" text-anchor="middle" fill="#666" >*</text>
<text x="383.50" y="284.10" font-size="9.5" stroke="#666" stroke-width="0.6" text-anchor="middle" fill="#666" >*</text>
<text x="348.70" y="247.72" font-size="9.0" stroke="#1a1a1a" stroke-width="0.3" font-weight="bold" text-anchor="middle" textLength="28.50" lengthAdjust="spacingAndGlyphs" >AsPC-1</text>
<line x1="317.50" y1="263.80" x2="327.50" y2="263.80" stroke="#93b3d6" stroke-width="1.8" />
<path d="M319.90 263.80 L322.50 261.80 L325.10 263.80 L322.50 265.80Z" fill="#93b3d6"/>
<text x="331.30" y="266.66" font-size="8.0" stroke="#222" stroke-width="0.38" fill="#222" >Mock</text>
<line x1="317.50" y1="273.30" x2="327.50" y2="273.30" stroke="#c9d23c" stroke-width="1.8" />
<path d="M319.90 273.30 L322.50 271.30 L325.10 273.30 L322.50 275.30Z" fill="#c9d23c"/>
<text x="331.30" y="276.16" font-size="8.0" stroke="#222" stroke-width="0.38" fill="#222" >Control</text>
<line x1="317.50" y1="283.30" x2="327.50" y2="283.30" stroke="#a82424" stroke-width="1.8" />
<path d="M320.30 284.90 L324.70 284.90 L322.50 281.10Z" fill="#a82424"/>
<text x="331.30" y="286.16" font-size="8.0" stroke="#222" stroke-width="0.38" fill="#222" >pSTK33</text>
<text x="281.20" y="301.00" font-size="11.6" text-anchor="middle" fill="#222" stroke="#222" stroke-width="0.4" transform="rotate(-90 281.20 301.00)" textLength="97.00" lengthAdjust="spacingAndGlyphs">Tumor volume (mm<tspan font-size="7.5" dy="-4.5">3</tspan><tspan dy="4.5">)</tspan></text>
<text x="352.40" y="366.89" font-size="10.6" stroke="#1a1a1a" stroke-width="0.45" text-anchor="middle" >Weeks</text>
<line x1="427.00" y1="255.75" x2="427.00" y2="342.00" stroke="#222" stroke-width="1.2" />
<line x1="427.00" y1="342.00" x2="505.00" y2="342.00" stroke="#222" stroke-width="1.2" />
<line x1="423.00" y1="342.00" x2="427.00" y2="342.00" stroke="#222" stroke-width="1.1" />
<text x="421.60" y="345.58" font-size="10.0" stroke="#1a1a1a" stroke-width="0.5" text-anchor="end" >0</text>
<line x1="423.00" y1="320.44" x2="427.00" y2="320.44" stroke="#222" stroke-width="1.1" />
<text x="421.60" y="324.02" font-size="10.0" stroke="#1a1a1a" stroke-width="0.5" text-anchor="end" >100</text>
<line x1="423.00" y1="298.88" x2="427.00" y2="298.88" stroke="#222" stroke-width="1.1" />
<text x="421.60" y="302.45" font-size="10.0" stroke="#1a1a1a" stroke-width="0.5" text-anchor="end" >200</text>
<line x1="423.00" y1="277.31" x2="427.00" y2="277.31" stroke="#222" stroke-width="1.1" />
<text x="421.60" y="280.89" font-size="10.0" stroke="#1a1a1a" stroke-width="0.5" text-anchor="end" >300</text>
<line x1="423.00" y1="255.75" x2="427.00" y2="255.75" stroke="#222" stroke-width="1.1" />
<text x="421.60" y="259.33" font-size="10.0" stroke="#1a1a1a" stroke-width="0.5" text-anchor="end" >400</text>
<line x1="433.75" y1="342.00" x2="433.75" y2="344.80" stroke="#222" stroke-width="1.1" />
<text x="433.75" y="355.48" font-size="10.0" stroke="#1a1a1a" stroke-width="0.45" text-anchor="middle" >1</text>
<line x1="451.25" y1="342.00" x2="451.25" y2="344.80" stroke="#222" stroke-width="1.1" />
<text x="451.25" y="355.48" font-size="10.0" stroke="#1a1a1a" stroke-width="0.45" text-anchor="middle" >2</text>
<line x1="468.00" y1="342.00" x2="468.00" y2="344.80" stroke="#222" stroke-width="1.1" />
<text x="468.00" y="355.48" font-size="10.0" stroke="#1a1a1a" stroke-width="0.45" text-anchor="middle" >3</text>
<line x1="484.50" y1="342.00" x2="484.50" y2="344.80" stroke="#222" stroke-width="1.1" />
<text x="484.50" y="355.48" font-size="10.0" stroke="#1a1a1a" stroke-width="0.45" text-anchor="middle" >4</text>
<line x1="501.00" y1="342.00" x2="501.00" y2="344.80" stroke="#222" stroke-width="1.1" />
<text x="501.00" y="355.48" font-size="10.0" stroke="#1a1a1a" stroke-width="0.45" text-anchor="middle" >5</text>
<path d="M433.75 342.00 C437.25 341.14 444.40 340.49 451.25 337.69 C458.10 334.88 461.35 333.16 468.00 327.98 C474.65 322.81 477.90 319.57 484.50 311.81 C491.10 304.05 497.70 293.70 501.00 289.17 " fill="none" stroke="#93b3d6" stroke-width="1.7" stroke-linejoin="round"/>
<path d="M433.75 342.00 C437.25 341.14 444.40 339.84 451.25 337.69 C458.10 335.53 461.35 335.32 468.00 331.22 C474.65 327.12 477.90 324.10 484.50 317.20 C491.10 310.30 497.70 300.82 501.00 296.72 " fill="none" stroke="#c9d23c" stroke-width="1.7" stroke-linejoin="round"/>
<path d="M433.75 342.00 C437.25 341.35 444.40 340.06 451.25 338.77 C458.10 337.47 461.35 337.04 468.00 335.53 C474.65 334.02 477.90 333.29 484.50 331.22 C491.10 329.15 497.70 326.39 501.00 325.18 " fill="none" stroke="#a82424" stroke-width="1.7" stroke-linejoin="round"/>
<path d="M430.89 342.00 L433.75 339.80 L436.61 342.00 L433.75 344.20Z" fill="#93b3d6"/>
<path d="M448.39 337.69 L451.25 335.49 L454.11 337.69 L451.25 339.89Z" fill="#93b3d6"/>
<line x1="468.00" y1="325.83" x2="468.00" y2="330.14" stroke="#111" stroke-width="1.2" />
<line x1="465.70" y1="325.83" x2="470.30" y2="325.83" stroke="#111" stroke-width="1.6" />
<line x1="465.70" y1="330.14" x2="470.30" y2="330.14" stroke="#111" stroke-width="1.6" />
<path d="M465.14 327.98 L468.00 325.78 L470.86 327.98 L468.00 330.18Z" fill="#93b3d6"/>
<line x1="484.50" y1="309.23" x2="484.50" y2="314.40" stroke="#111" stroke-width="1.2" />
<line x1="482.20" y1="309.23" x2="486.80" y2="309.23" stroke="#111" stroke-width="1.6" />
<line x1="482.20" y1="314.40" x2="486.80" y2="314.40" stroke="#111" stroke-width="1.6" />
<path d="M481.64 311.81 L484.50 309.61 L487.36 311.81 L484.50 314.01Z" fill="#93b3d6"/>
<line x1="501.00" y1="280.55" x2="501.00" y2="297.80" stroke="#111" stroke-width="1.2" />
<line x1="498.70" y1="280.55" x2="503.30" y2="280.55" stroke="#111" stroke-width="1.6" />
<line x1="498.70" y1="297.80" x2="503.30" y2="297.80" stroke="#111" stroke-width="1.6" />
<path d="M498.14 289.17 L501.00 286.97 L503.86 289.17 L501.00 291.37Z" fill="#93b3d6"/>
<path d="M430.89 342.00 L433.75 339.80 L436.61 342.00 L433.75 344.20Z" fill="#c9d23c"/>
<path d="M448.39 337.69 L451.25 335.49 L454.11 337.69 L451.25 339.89Z" fill="#c9d23c"/>
<line x1="468.00" y1="329.49" x2="468.00" y2="332.94" stroke="#111" stroke-width="1.2" />
<line x1="465.70" y1="329.49" x2="470.30" y2="329.49" stroke="#111" stroke-width="1.6" />
<line x1="465.70" y1="332.94" x2="470.30" y2="332.94" stroke="#111" stroke-width="1.6" />
<path d="M465.14 331.22 L468.00 329.02 L470.86 331.22 L468.00 333.42Z" fill="#c9d23c"/>
<line x1="484.50" y1="312.89" x2="484.50" y2="321.52" stroke="#111" stroke-width="1.2" />
<line x1="482.20" y1="312.89" x2="486.80" y2="312.89" stroke="#111" stroke-width="1.6" />
<line x1="482.20" y1="321.52" x2="486.80" y2="321.52" stroke="#111" stroke-width="1.6" />
<path d="M481.64 317.20 L484.50 315.00 L487.36 317.20 L484.50 319.40Z" fill="#c9d23c"/>
<line x1="501.00" y1="291.33" x2="501.00" y2="302.11" stroke="#111" stroke-width="1.2" />
<line x1="498.70" y1="291.33" x2="503.30" y2="291.33" stroke="#111" stroke-width="1.6" />
<line x1="498.70" y1="302.11" x2="503.30" y2="302.11" stroke="#111" stroke-width="1.6" />
<path d="M498.14 296.72 L501.00 294.52 L503.86 296.72 L501.00 298.92Z" fill="#c9d23c"/>
<path d="M431.33 343.76 L436.17 343.76 L433.75 339.58Z" fill="#a82424"/>
<path d="M448.83 340.53 L453.67 340.53 L451.25 336.35Z" fill="#a82424"/>
<line x1="468.00" y1="334.24" x2="468.00" y2="336.82" stroke="#111" stroke-width="1.2" />
<line x1="465.70" y1="334.24" x2="470.30" y2="334.24" stroke="#111" stroke-width="1.6" />
<line x1="465.70" y1="336.82" x2="470.30" y2="336.82" stroke="#111" stroke-width="1.6" />
<path d="M465.58 337.29 L470.42 337.29 L468.00 333.11Z" fill="#a82424"/>
<line x1="484.50" y1="328.63" x2="484.50" y2="333.81" stroke="#111" stroke-width="1.2" />
<line x1="482.20" y1="328.63" x2="486.80" y2="328.63" stroke="#111" stroke-width="1.6" />
<line x1="482.20" y1="333.81" x2="486.80" y2="333.81" stroke="#111" stroke-width="1.6" />
<path d="M482.08 332.98 L486.92 332.98 L484.50 328.80Z" fill="#a82424"/>
<line x1="501.00" y1="321.95" x2="501.00" y2="328.42" stroke="#111" stroke-width="1.2" />
<line x1="498.70" y1="321.95" x2="503.30" y2="321.95" stroke="#111" stroke-width="1.6" />
<line x1="498.70" y1="328.42" x2="503.30" y2="328.42" stroke="#111" stroke-width="1.6" />
<path d="M498.58 326.94 L503.42 326.94 L501.00 322.76Z" fill="#a82424"/>
<text x="484.50" y="342.60" font-size="9.5" stroke="#666" stroke-width="0.6" text-anchor="middle" fill="#666" >*</text>
<text x="501.00" y="338.60" font-size="9.5" stroke="#666" stroke-width="0.6" text-anchor="middle" fill="#666" >*</text>
<text x="466.60" y="248.22" font-size="9.0" stroke="#1a1a1a" stroke-width="0.3" font-weight="bold" text-anchor="middle" textLength="35.70" lengthAdjust="spacingAndGlyphs" >SW1990</text>
<line x1="437.50" y1="262.00" x2="446.30" y2="262.00" stroke="#93b3d6" stroke-width="1.8" />
<path d="M439.30 262.00 L441.90 260.00 L444.50 262.00 L441.90 264.00Z" fill="#93b3d6"/>
<text x="450.50" y="264.86" font-size="8.0" stroke="#222" stroke-width="0.38" fill="#222" >Mock</text>
<line x1="437.50" y1="271.80" x2="446.30" y2="271.80" stroke="#c9d23c" stroke-width="1.8" />
<path d="M439.30 271.80 L441.90 269.80 L444.50 271.80 L441.90 273.80Z" fill="#c9d23c"/>
<text x="450.50" y="274.66" font-size="8.0" stroke="#222" stroke-width="0.38" fill="#222" >Control</text>
<line x1="437.50" y1="282.00" x2="446.30" y2="282.00" stroke="#a82424" stroke-width="1.8" />
<path d="M439.70 283.60 L444.10 283.60 L441.90 279.80Z" fill="#a82424"/>
<text x="450.50" y="284.86" font-size="8.0" stroke="#222" stroke-width="0.38" fill="#222" >siSTK33</text>
<text x="471.90" y="366.89" font-size="10.6" stroke="#1a1a1a" stroke-width="0.45" text-anchor="middle" >Weeks</text>
<rect x="10.7" y="404.7" width="151.60000000000002" height="100.10000000000002" fill="url(#gmice)"/>
<rect x="10.7" y="504.8" width="151.60000000000002" height="43.69999999999999" fill="url(#gtum)"/>
<g transform="translate(32.00 420.40) rotate(0) skewX(-2) scale(1.0 1.0)">
<g filter="url(#bl08)">
<path d="M26.2 68 C26.6 76 25.8 82 26.4 87" fill="none" stroke="#c0ab9d" stroke-width="2.2" stroke-linecap="round"/>
<path d="M-0.50 0.40 C-0.58 -1.42 2.05 -1.38 3.90 -1.90 C5.75 -2.42 8.52 -2.88 10.60 -2.70 C12.68 -2.52 14.73 -1.38 16.40 -0.80 C18.07 -0.22 19.07 0.08 20.60 0.80 C22.13 1.52 23.90 2.42 25.60 3.50 C27.30 4.58 29.20 5.97 30.80 7.30 C32.40 8.63 34.12 9.22 35.20 11.50 C36.28 13.78 36.43 17.25 37.30 21.00 C38.17 24.75 39.38 29.83 40.42 34.00 C41.46 38.17 42.99 42.33 43.54 46.00 C44.09 49.67 43.99 53.00 43.74 56.00 C43.49 59.00 42.83 61.75 42.02 64.00 C41.21 66.25 40.07 68.08 38.90 69.50 C37.73 70.92 36.48 71.92 35.00 72.50 C33.52 73.08 31.83 73.25 30.00 73.00 C28.17 72.75 26.22 71.75 24.00 71.00 C21.78 70.25 19.38 68.92 16.70 68.50 C14.02 68.08 11.03 68.25 7.94 68.50 C4.85 68.75 1.24 69.83 -1.82 70.00 C-4.88 70.17 -8.79 70.00 -10.40 69.50 C-12.01 69.00 -12.38 67.78 -11.50 67.00 C-10.62 66.22 -7.73 65.55 -5.15 64.80 C-2.57 64.05 1.04 63.38 3.98 62.50 C6.92 61.62 10.60 60.75 12.50 59.50 C14.40 58.25 15.33 57.08 15.38 55.00 C15.43 52.92 13.63 49.70 12.80 47.00 C11.97 44.30 11.09 41.50 10.39 38.80 C9.69 36.10 8.99 33.27 8.61 30.80 C8.23 28.33 8.62 25.62 8.12 24.00 C7.62 22.38 7.10 21.90 5.60 21.10 C4.10 20.30 1.40 19.67 -0.90 19.20 C-3.20 18.73 -6.27 18.68 -8.20 18.30 C-10.13 17.92 -11.92 17.65 -12.50 16.90 C-13.08 16.15 -12.80 14.37 -11.70 13.80 C-10.60 13.23 -8.08 13.33 -5.90 13.50 C-3.72 13.67 -0.47 14.55 1.40 14.80 C3.27 15.05 4.80 15.97 5.30 15.00 C5.80 14.03 5.37 11.43 4.40 9.00 C3.43 6.57 -0.42 2.22 -0.50 0.40 Z" fill="#bcaa9d"/>
<ellipse cx="-1" cy="15" rx="10" ry="2.3" fill="#d3c0b2" opacity="0.9" transform="rotate(5 -1 15)"/>
<ellipse cx="-2" cy="66.5" rx="12" ry="2.4" fill="#d3c0b2" opacity="0.9" transform="rotate(-6 -2 66.5)"/>
<ellipse cx="24" cy="50" rx="10" ry="18" fill="#fff" opacity="0.12" transform="rotate(-9 24 50)" filter="url(#bl3)"/>
<ellipse cx="9" cy="4" rx="10" ry="5.2" fill="#a59286" opacity="0.75" transform="rotate(15 9 4)"/>
<ellipse cx="27" cy="12" rx="6" ry="3" fill="#d6c2b4" opacity="0.9" transform="rotate(20 27 12)"/>
<path d="M17.32 -0.02 C17.51 -1.11 20.05 -2.00 21.75 -2.71 C23.45 -3.42 25.79 -4.25 27.52 -4.25 C29.25 -4.25 31.17 -3.67 32.13 -2.71 C33.09 -1.75 33.60 0.17 33.28 1.52 C32.96 2.87 31.49 4.60 30.21 5.37 C28.93 6.14 27.19 6.40 25.59 6.14 C23.99 5.88 21.97 4.86 20.59 3.83 C19.21 2.80 17.13 1.07 17.32 -0.02 Z" fill="#dccbbb"/>
<ellipse cx="17.4" cy="26" rx="5.2" ry="5.46" fill="#c7b2a3"/>
<ellipse cx="18.96" cy="27.82" rx="3.64" ry="3.12" fill="#b4a193" opacity="0.7"/>
</g>
</g>
<path d="M52.00 458.20 L55.80 462.20 L53.90 462.20 L53.90 470.60 L50.10 470.60 L50.10 462.20 L48.20 462.20Z" fill="none" stroke="#e6e8ec" stroke-width="2.2" opacity="0.55" filter="url(#bl06)"/>
<path d="M52.00 458.20 L55.80 462.20 L53.90 462.20 L53.90 470.60 L50.10 470.60 L50.10 462.20 L48.20 462.20Z" fill="#5596dc" filter="url(#bl03)"/>
<g transform="translate(70.60 417.50) rotate(0) skewX(-1) scale(1.0 1.0)">
<g filter="url(#bl08)">
<path d="M26.2 68 C26.6 76 25.8 82 26.4 87" fill="none" stroke="#c0ab9d" stroke-width="2.2" stroke-linecap="round"/>
<path d="M-0.50 0.40 C-0.58 -1.42 2.05 -1.38 3.90 -1.90 C5.75 -2.42 8.52 -2.88 10.60 -2.70 C12.68 -2.52 14.73 -1.38 16.40 -0.80 C18.07 -0.22 19.07 0.08 20.60 0.80 C22.13 1.52 23.90 2.42 25.60 3.50 C27.30 4.58 29.20 5.97 30.80 7.30 C32.40 8.63 34.12 9.22 35.20 11.50 C36.28 13.78 36.43 17.25 37.30 21.00 C38.17 24.75 39.38 29.83 40.42 34.00 C41.46 38.17 42.99 42.33 43.54 46.00 C44.09 49.67 43.99 53.00 43.74 56.00 C43.49 59.00 42.83 61.75 42.02 64.00 C41.21 66.25 40.07 68.08 38.90 69.50 C37.73 70.92 36.48 71.92 35.00 72.50 C33.52 73.08 31.83 73.25 30.00 73.00 C28.17 72.75 26.22 71.75 24.00 71.00 C21.78 70.25 19.38 68.92 16.70 68.50 C14.02 68.08 11.03 68.25 7.94 68.50 C4.85 68.75 1.24 69.83 -1.82 70.00 C-4.88 70.17 -8.79 70.00 -10.40 69.50 C-12.01 69.00 -12.38 67.78 -11.50 67.00 C-10.62 66.22 -7.73 65.55 -5.15 64.80 C-2.57 64.05 1.04 63.38 3.98 62.50 C6.92 61.62 10.60 60.75 12.50 59.50 C14.40 58.25 15.33 57.08 15.38 55.00 C15.43 52.92 13.63 49.70 12.80 47.00 C11.97 44.30 11.09 41.50 10.39 38.80 C9.69 36.10 8.99 33.27 8.61 30.80 C8.23 28.33 8.62 25.62 8.12 24.00 C7.62 22.38 7.10 21.90 5.60 21.10 C4.10 20.30 1.40 19.67 -0.90 19.20 C-3.20 18.73 -6.27 18.68 -8.20 18.30 C-10.13 17.92 -11.92 17.65 -12.50 16.90 C-13.08 16.15 -12.80 14.37 -11.70 13.80 C-10.60 13.23 -8.08 13.33 -5.90 13.50 C-3.72 13.67 -0.47 14.55 1.40 14.80 C3.27 15.05 4.80 15.97 5.30 15.00 C5.80 14.03 5.37 11.43 4.40 9.00 C3.43 6.57 -0.42 2.22 -0.50 0.40 Z" fill="#bcaa9d"/>
<ellipse cx="-1" cy="15" rx="10" ry="2.3" fill="#d3c0b2" opacity="0.9" transform="rotate(5 -1 15)"/>
<ellipse cx="-2" cy="66.5" rx="12" ry="2.4" fill="#d3c0b2" opacity="0.9" transform="rotate(-6 -2 66.5)"/>
<ellipse cx="24" cy="50" rx="10" ry="18" fill="#fff" opacity="0.12" transform="rotate(-9 24 50)" filter="url(#bl3)"/>
<ellipse cx="9" cy="4" rx="10" ry="5.2" fill="#a59286" opacity="0.75" transform="rotate(15 9 4)"/>
<ellipse cx="27" cy="12" rx="6" ry="3" fill="#d6c2b4" opacity="0.9" transform="rotate(20 27 12)"/>
<path d="M17.32 -0.02 C17.51 -1.11 20.05 -2.00 21.75 -2.71 C23.45 -3.42 25.79 -4.25 27.52 -4.25 C29.25 -4.25 31.17 -3.67 32.13 -2.71 C33.09 -1.75 33.60 0.17 33.28 1.52 C32.96 2.87 31.49 4.60 30.21 5.37 C28.93 6.14 27.19 6.40 25.59 6.14 C23.99 5.88 21.97 4.86 20.59 3.83 C19.21 2.80 17.13 1.07 17.32 -0.02 Z" fill="#dccbbb"/>
<ellipse cx="18.2" cy="35.5" rx="5.5" ry="5.78" fill="#c7b2a3"/>
<ellipse cx="19.85" cy="37.42" rx="3.85" ry="3.30" fill="#b4a193" opacity="0.7"/>
</g>
</g>
<path d="M90.50 464.40 L94.30 468.40 L92.40 468.40 L92.40 476.80 L88.60 476.80 L88.60 468.40 L86.70 468.40Z" fill="none" stroke="#e6e8ec" stroke-width="2.2" opacity="0.55" filter="url(#bl06)"/>
<path d="M90.50 464.40 L94.30 468.40 L92.40 468.40 L92.40 476.80 L88.60 476.80 L88.60 468.40 L86.70 468.40Z" fill="#5596dc" filter="url(#bl03)"/>
<g transform="translate(114.00 421.00) rotate(0) skewX(-1) scale(1.0 0.99)">
<g filter="url(#bl08)">
<path d="M26.2 68 C26.6 76 25.8 82 26.4 87" fill="none" stroke="#c0ab9d" stroke-width="2.2" stroke-linecap="round"/>
<path d="M-0.50 0.40 C-0.58 -1.42 2.05 -1.38 3.90 -1.90 C5.75 -2.42 8.52 -2.88 10.60 -2.70 C12.68 -2.52 14.73 -1.38 16.40 -0.80 C18.07 -0.22 19.07 0.08 20.60 0.80 C22.13 1.52 23.90 2.42 25.60 3.50 C27.30 4.58 29.20 5.97 30.80 7.30 C32.40 8.63 34.12 9.22 35.20 11.50 C36.28 13.78 36.43 17.25 37.30 21.00 C38.17 24.75 39.38 29.83 40.42 34.00 C41.46 38.17 42.99 42.33 43.54 46.00 C44.09 49.67 43.99 53.00 43.74 56.00 C43.49 59.00 42.83 61.75 42.02 64.00 C41.21 66.25 40.07 68.08 38.90 69.50 C37.73 70.92 36.48 71.92 35.00 72.50 C33.52 73.08 31.83 73.25 30.00 73.00 C28.17 72.75 26.22 71.75 24.00 71.00 C21.78 70.25 19.38 68.92 16.70 68.50 C14.02 68.08 11.03 68.25 7.94 68.50 C4.85 68.75 1.24 69.83 -1.82 70.00 C-4.88 70.17 -8.79 70.00 -10.40 69.50 C-12.01 69.00 -12.38 67.78 -11.50 67.00 C-10.62 66.22 -7.73 65.55 -5.15 64.80 C-2.57 64.05 1.04 63.38 3.98 62.50 C6.92 61.62 10.60 60.75 12.50 59.50 C14.40 58.25 15.33 57.08 15.38 55.00 C15.43 52.92 13.63 49.70 12.80 47.00 C11.97 44.30 11.09 41.50 10.39 38.80 C9.69 36.10 8.99 33.27 8.61 30.80 C8.23 28.33 8.62 25.62 8.12 24.00 C7.62 22.38 7.10 21.90 5.60 21.10 C4.10 20.30 1.40 19.67 -0.90 19.20 C-3.20 18.73 -6.27 18.68 -8.20 18.30 C-10.13 17.92 -11.92 17.65 -12.50 16.90 C-13.08 16.15 -12.80 14.37 -11.70 13.80 C-10.60 13.23 -8.08 13.33 -5.90 13.50 C-3.72 13.67 -0.47 14.55 1.40 14.80 C3.27 15.05 4.80 15.97 5.30 15.00 C5.80 14.03 5.37 11.43 4.40 9.00 C3.43 6.57 -0.42 2.22 -0.50 0.40 Z" fill="#bcaa9d"/>
<ellipse cx="-1" cy="15" rx="10" ry="2.3" fill="#d3c0b2" opacity="0.9" transform="rotate(5 -1 15)"/>
<ellipse cx="-2" cy="66.5" rx="12" ry="2.4" fill="#d3c0b2" opacity="0.9" transform="rotate(-6 -2 66.5)"/>
<ellipse cx="24" cy="50" rx="10" ry="18" fill="#fff" opacity="0.12" transform="rotate(-9 24 50)" filter="url(#bl3)"/>
<ellipse cx="9" cy="4" rx="10" ry="5.2" fill="#a59286" opacity="0.75" transform="rotate(15 9 4)"/>
<ellipse cx="27" cy="12" rx="6" ry="3" fill="#d6c2b4" opacity="0.9" transform="rotate(20 27 12)"/>
<path d="M17.32 -0.02 C17.51 -1.11 20.05 -2.00 21.75 -2.71 C23.45 -3.42 25.79 -4.25 27.52 -4.25 C29.25 -4.25 31.17 -3.67 32.13 -2.71 C33.09 -1.75 33.60 0.17 33.28 1.52 C32.96 2.87 31.49 4.60 30.21 5.37 C28.93 6.14 27.19 6.40 25.59 6.14 C23.99 5.88 21.97 4.86 20.59 3.83 C19.21 2.80 17.13 1.07 17.32 -0.02 Z" fill="#dccbbb"/>
<ellipse cx="14" cy="37" rx="7.5" ry="7.88" fill="#c7b2a3"/>
<ellipse cx="16.25" cy="39.62" rx="5.25" ry="4.50" fill="#b4a193" opacity="0.7"/>
</g>
</g>
<path d="M125.80 465.90 L129.60 469.90 L127.70 469.90 L127.70 478.30 L123.90 478.30 L123.90 469.90 L122.00 469.90Z" fill="none" stroke="#e6e8ec" stroke-width="2.2" opacity="0.55" filter="url(#bl06)"/>
<path d="M125.80 465.90 L129.60 469.90 L127.70 469.90 L127.70 478.30 L123.90 478.30 L123.90 469.90 L122.00 469.90Z" fill="#5596dc" filter="url(#bl03)"/>
<g filter="url(#bl06)">
<ellipse cx="35.20" cy="527.20" rx="11.20" ry="9.80" fill="#c09284" />
<ellipse cx="34.60" cy="526.20" rx="10.64" ry="9.11" fill="#d3a597" />
<ellipse cx="32.92" cy="524.24" rx="6.16" ry="4.90" fill="#e8cbc0" />
</g>
<g filter="url(#bl06)">
<ellipse cx="77.60" cy="526.50" rx="9.50" ry="9.50" fill="#c09284" />
<ellipse cx="81.60" cy="522.00" rx="6.00" ry="5.50" fill="#c09284" />
<ellipse cx="77.00" cy="525.50" rx="9.03" ry="8.84" fill="#d3a597" />
<ellipse cx="81.00" cy="521.00" rx="5.70" ry="5.12" fill="#d3a597" />
<ellipse cx="75.58" cy="523.60" rx="5.23" ry="4.75" fill="#e8cbc0" />
<ellipse cx="80.10" cy="519.90" rx="3.30" ry="2.75" fill="#e8cbc0" />
</g>
<g filter="url(#bl06)">
<ellipse cx="124.30" cy="524.50" rx="14.80" ry="11.80" fill="#c09284" />
<ellipse cx="123.70" cy="523.50" rx="14.06" ry="10.97" fill="#d3a597" />
<ellipse cx="121.48" cy="521.14" rx="8.14" ry="5.90" fill="#e8cbc0" />
</g>
<rect x="10.70" y="548.50" width="151.60" height="27.00" fill="#dedede" />
<rect x="10.70" y="548.50" width="151.60" height="11.00" fill="#d2d2d2" />
<line x1="10.70" y1="549.00" x2="162.30" y2="549.00" stroke="#666" stroke-width="1.0" />
<rect x="10.70" y="559.50" width="151.60" height="4.20" fill="#f6f6f6" />
<line x1="13.00" y1="549.50" x2="13.00" y2="562.30" stroke="#3a3a3a" stroke-width="0.8" />
<line x1="15.46" y1="549.50" x2="15.46" y2="558.00" stroke="#555" stroke-width="0.6" />
<line x1="17.92" y1="549.50" x2="17.92" y2="558.00" stroke="#555" stroke-width="0.6" />
<line x1="20.38" y1="549.50" x2="20.38" y2="558.00" stroke="#555" stroke-width="0.6" />
<line x1="22.84" y1="549.50" x2="22.84" y2="558.00" stroke="#555" stroke-width="0.6" />
<line x1="25.30" y1="549.50" x2="25.30" y2="560.00" stroke="#444" stroke-width="0.7" />
<line x1="27.76" y1="549.50" x2="27.76" y2="558.00" stroke="#555" stroke-width="0.6" />
<line x1="30.22" y1="549.50" x2="30.22" y2="558.00" stroke="#555" stroke-width="0.6" />
<line x1="32.68" y1="549.50" x2="32.68" y2="558.00" stroke="#555" stroke-width="0.6" />
<line x1="35.14" y1="549.50" x2="35.14" y2="558.00" stroke="#555" stroke-width="0.6" />
<line x1="37.60" y1="549.50" x2="37.60" y2="562.30" stroke="#3a3a3a" stroke-width="0.8" />
<line x1="40.06" y1="549.50" x2="40.06" y2="558.00" stroke="#555" stroke-width="0.6" />
<line x1="42.52" y1="549.50" x2="42.52" y2="558.00" stroke="#555" stroke-width="0.6" />
<line x1="44.98" y1="549.50" x2="44.98" y2="558.00" stroke="#555" stroke-width="0.6" />
<line x1="47.44" y1="549.50" x2="47.44" y2="558.00" stroke="#555" stroke-width="0.6" />
<line x1="49.90" y1="549.50" x2="49.90" y2="560.00" stroke="#444" stroke-width="0.7" />
<line x1="52.36" y1="549.50" x2="52.36" y2="558.00" stroke="#555" stroke-width="0.6" />
<line x1="54.82" y1="549.50" x2="54.82" y2="558.00" stroke="#555" stroke-width="0.6" />
<line x1="57.28" y1="549.50" x2="57.28" y2="558.00" stroke="#555" stroke-width="0.6" />
<line x1="59.74" y1="549.50" x2="59.74" y2="558.00" stroke="#555" stroke-width="0.6" />
<line x1="62.20" y1="549.50" x2="62.20" y2="562.30" stroke="#3a3a3a" stroke-width="0.8" />
<line x1="64.66" y1="549.50" x2="64.66" y2="558.00" stroke="#555" stroke-width="0.6" />
<line x1="67.12" y1="549.50" x2="67.12" y2="558.00" stroke="#555" stroke-width="0.6" />
<line x1="69.58" y1="549.50" x2="69.58" y2="558.00" stroke="#555" stroke-width="0.6" />
<line x1="72.04" y1="549.50" x2="72.04" y2="558.00" stroke="#555" stroke-width="0.6" />
<line x1="74.50" y1="549.50" x2="74.50" y2="560.00" stroke="#444" stroke-width="0.7" />
<line x1="76.96" y1="549.50" x2="76.96" y2="558.00" stroke="#555" stroke-width="0.6" />
<line x1="79.42" y1="549.50" x2="79.42" y2="558.00" stroke="#555" stroke-width="0.6" />
<line x1="81.88" y1="549.50" x2="81.88" y2="558.00" stroke="#555" stroke-width="0.6" />
<line x1="84.34" y1="549.50" x2="84.34" y2="558.00" stroke="#555" stroke-width="0.6" />
<line x1="86.80" y1="549.50" x2="86.80" y2="562.30" stroke="#3a3a3a" stroke-width="0.8" />
<line x1="89.26" y1="549.50" x2="89.26" y2="558.00" stroke="#555" stroke-width="0.6" />
<line x1="91.72" y1="549.50" x2="91.72" y2="558.00" stroke="#555" stroke-width="0.6" />
<line x1="94.18" y1="549.50" x2="94.18" y2="558.00" stroke="#555" stroke-width="0.6" />
<line x1="96.64" y1="549.50" x2="96.64" y2="558.00" stroke="#555" stroke-width="0.6" />
<line x1="99.10" y1="549.50" x2="99.10" y2="560.00" stroke="#444" stroke-width="0.7" />
<line x1="101.56" y1="549.50" x2="101.56" y2="558.00" stroke="#555" stroke-width="0.6" />
<line x1="104.02" y1="549.50" x2="104.02" y2="558.00" stroke="#555" stroke-width="0.6" />
<line x1="106.48" y1="549.50" x2="106.48" y2="558.00" stroke="#555" stroke-width="0.6" />
<line x1="108.94" y1="549.50" x2="108.94" y2="558.00" stroke="#555" stroke-width="0.6" />
<line x1="111.40" y1="549.50" x2="111.40" y2="562.30" stroke="#3a3a3a" stroke-width="0.8" />
<line x1="113.86" y1="549.50" x2="113.86" y2="558.00" stroke="#555" stroke-width="0.6" />
<line x1="116.32" y1="549.50" x2="116.32" y2="558.00" stroke="#555" stroke-width="0.6" />
<line x1="118.78" y1="549.50" x2="118.78" y2="558.00" stroke="#555" stroke-width="0.6" />
<line x1="121.24" y1="549.50" x2="121.24" y2="558.00" stroke="#555" stroke-width="0.6" />
<line x1="123.70" y1="549.50" x2="123.70" y2="560.00" stroke="#444" stroke-width="0.7" />
<line x1="126.16" y1="549.50" x2="126.16" y2="558.00" stroke="#555" stroke-width="0.6" />
<line x1="128.62" y1="549.50" x2="128.62" y2="558.00" stroke="#555" stroke-width="0.6" />
<line x1="131.08" y1="549.50" x2="131.08" y2="558.00" stroke="#555" stroke-width="0.6" />
<line x1="133.54" y1="549.50" x2="133.54" y2="558.00" stroke="#555" stroke-width="0.6" />
<line x1="136.00" y1="549.50" x2="136.00" y2="562.30" stroke="#3a3a3a" stroke-width="0.8" />
<line x1="138.46" y1="549.50" x2="138.46" y2="558.00" stroke="#555" stroke-width="0.6" />
<line x1="140.92" y1="549.50" x2="140.92" y2="558.00" stroke="#555" stroke-width="0.6" />
<line x1="143.38" y1="549.50" x2="143.38" y2="558.00" stroke="#555" stroke-width="0.6" />
<line x1="145.84" y1="549.50" x2="145.84" y2="558.00" stroke="#555" stroke-width="0.6" />
<line x1="148.30" y1="549.50" x2="148.30" y2="560.00" stroke="#444" stroke-width="0.7" />
<line x1="150.76" y1="549.50" x2="150.76" y2="558.00" stroke="#555" stroke-width="0.6" />
<line x1="153.22" y1="549.50" x2="153.22" y2="558.00" stroke="#555" stroke-width="0.6" />
<line x1="155.68" y1="549.50" x2="155.68" y2="558.00" stroke="#555" stroke-width="0.6" />
<line x1="158.14" y1="549.50" x2="158.14" y2="558.00" stroke="#555" stroke-width="0.6" />
<line x1="160.60" y1="549.50" x2="160.60" y2="562.30" stroke="#3a3a3a" stroke-width="0.8" />
<text x="15.40" y="572.95" font-size="8.8" stroke="#222" stroke-width="0.12" font-weight="bold" text-anchor="middle" fill="#222" >0</text>
<text x="45.30" y="572.95" font-size="8.8" stroke="#222" stroke-width="0.12" font-weight="bold" text-anchor="middle" fill="#222" >1cm</text>
<text x="63.80" y="572.95" font-size="8.8" stroke="#222" stroke-width="0.12" font-weight="bold" text-anchor="middle" fill="#222" >2</text>
<text x="88.20" y="572.95" font-size="8.8" stroke="#222" stroke-width="0.12" font-weight="bold" text-anchor="middle" fill="#222" >3</text>
<text x="112.60" y="572.95" font-size="8.8" stroke="#222" stroke-width="0.12" font-weight="bold" text-anchor="middle" fill="#222" >4</text>
<text x="137.00" y="572.95" font-size="8.8" stroke="#222" stroke-width="0.12" font-weight="bold" text-anchor="middle" fill="#222" >5</text>
<text x="161.60" y="572.95" font-size="8.8" stroke="#222" stroke-width="0.12" font-weight="bold" text-anchor="middle" fill="#222" >6</text>
<rect x="169.7" y="404.7" width="151.8" height="100.10000000000002" fill="url(#gmice)"/>
<rect x="169.7" y="504.8" width="151.8" height="44.99999999999994" fill="url(#gtum)"/>
<g transform="translate(198.80 415.60) rotate(0) skewX(-12) scale(1.0 1.0)">
<g filter="url(#bl08)">
<path d="M26.2 68 C26.6 76 25.8 82 26.4 87" fill="none" stroke="#c0ab9d" stroke-width="2.2" stroke-linecap="round"/>
<path d="M-0.50 0.40 C-0.58 -1.42 2.05 -1.38 3.90 -1.90 C5.75 -2.42 8.52 -2.88 10.60 -2.70 C12.68 -2.52 14.73 -1.38 16.40 -0.80 C18.07 -0.22 19.07 0.08 20.60 0.80 C22.13 1.52 23.90 2.42 25.60 3.50 C27.30 4.58 29.20 5.97 30.80 7.30 C32.40 8.63 34.12 9.22 35.20 11.50 C36.28 13.78 36.43 17.25 37.30 21.00 C38.17 24.75 39.38 29.83 40.42 34.00 C41.46 38.17 42.99 42.33 43.54 46.00 C44.09 49.67 43.99 53.00 43.74 56.00 C43.49 59.00 42.83 61.75 42.02 64.00 C41.21 66.25 40.07 68.08 38.90 69.50 C37.73 70.92 36.48 71.92 35.00 72.50 C33.52 73.08 31.83 73.25 30.00 73.00 C28.17 72.75 26.22 71.75 24.00 71.00 C21.78 70.25 19.38 68.92 16.70 68.50 C14.02 68.08 11.03 68.25 7.94 68.50 C4.85 68.75 1.24 69.83 -1.82 70.00 C-4.88 70.17 -8.79 70.00 -10.40 69.50 C-12.01 69.00 -12.38 67.78 -11.50 67.00 C-10.62 66.22 -7.73 65.55 -5.15 64.80 C-2.57 64.05 1.04 63.38 3.98 62.50 C6.92 61.62 10.60 60.75 12.50 59.50 C14.40 58.25 15.33 57.08 15.38 55.00 C15.43 52.92 13.63 49.70 12.80 47.00 C11.97 44.30 11.09 41.50 10.39 38.80 C9.69 36.10 8.99 33.27 8.61 30.80 C8.23 28.33 8.62 25.62 8.12 24.00 C7.62 22.38 7.10 21.90 5.60 21.10 C4.10 20.30 1.40 19.67 -0.90 19.20 C-3.20 18.73 -6.27 18.68 -8.20 18.30 C-10.13 17.92 -11.92 17.65 -12.50 16.90 C-13.08 16.15 -12.80 14.37 -11.70 13.80 C-10.60 13.23 -8.08 13.33 -5.90 13.50 C-3.72 13.67 -0.47 14.55 1.40 14.80 C3.27 15.05 4.80 15.97 5.30 15.00 C5.80 14.03 5.37 11.43 4.40 9.00 C3.43 6.57 -0.42 2.22 -0.50 0.40 Z" fill="#aca195"/>
<ellipse cx="-1" cy="15" rx="10" ry="2.3" fill="#d3c0b2" opacity="0.9" transform="rotate(5 -1 15)"/>
<ellipse cx="-2" cy="66.5" rx="12" ry="2.4" fill="#d3c0b2" opacity="0.9" transform="rotate(-6 -2 66.5)"/>
<ellipse cx="24" cy="50" rx="10" ry="18" fill="#fff" opacity="0.12" transform="rotate(-9 24 50)" filter="url(#bl3)"/>
<ellipse cx="9" cy="4" rx="10" ry="5.2" fill="#a59286" opacity="0.75" transform="rotate(15 9 4)"/>
<ellipse cx="27" cy="12" rx="6" ry="3" fill="#d6c2b4" opacity="0.9" transform="rotate(20 27 12)"/>
<path d="M17.32 -0.02 C17.51 -1.11 20.05 -2.00 21.75 -2.71 C23.45 -3.42 25.79 -4.25 27.52 -4.25 C29.25 -4.25 31.17 -3.67 32.13 -2.71 C33.09 -1.75 33.60 0.17 33.28 1.52 C32.96 2.87 31.49 4.60 30.21 5.37 C28.93 6.14 27.19 6.40 25.59 6.14 C23.99 5.88 21.97 4.86 20.59 3.83 C19.21 2.80 17.13 1.07 17.32 -0.02 Z" fill="#dccbbb"/>
<ellipse cx="11.5" cy="25" rx="7" ry="7.35" fill="#c7b2a3"/>
<ellipse cx="13.60" cy="27.45" rx="4.90" ry="4.20" fill="#b4a193" opacity="0.7"/>
</g>
</g>
<path d="M209.00 451.40 L212.80 455.40 L210.90 455.40 L210.90 463.80 L207.10 463.80 L207.10 455.40 L205.20 455.40Z" fill="none" stroke="#e6e8ec" stroke-width="2.2" opacity="0.55" filter="url(#bl06)"/>
<path d="M209.00 451.40 L212.80 455.40 L210.90 455.40 L210.90 463.80 L207.10 463.80 L207.10 455.40 L205.20 455.40Z" fill="#5596dc" filter="url(#bl03)"/>
<g transform="translate(237.00 418.00) rotate(0) skewX(-10) scale(0.97 0.98)">
<g filter="url(#bl08)">
<path d="M26.2 68 C26.6 76 25.8 82 26.4 87" fill="none" stroke="#c0ab9d" stroke-width="2.2" stroke-linecap="round"/>
<path d="M-0.50 0.40 C-0.58 -1.42 2.05 -1.38 3.90 -1.90 C5.75 -2.42 8.52 -2.88 10.60 -2.70 C12.68 -2.52 14.73 -1.38 16.40 -0.80 C18.07 -0.22 19.07 0.08 20.60 0.80 C22.13 1.52 23.90 2.42 25.60 3.50 C27.30 4.58 29.20 5.97 30.80 7.30 C32.40 8.63 34.12 9.22 35.20 11.50 C36.28 13.78 36.43 17.25 37.30 21.00 C38.17 24.75 39.38 29.83 40.42 34.00 C41.46 38.17 42.99 42.33 43.54 46.00 C44.09 49.67 43.99 53.00 43.74 56.00 C43.49 59.00 42.83 61.75 42.02 64.00 C41.21 66.25 40.07 68.08 38.90 69.50 C37.73 70.92 36.48 71.92 35.00 72.50 C33.52 73.08 31.83 73.25 30.00 73.00 C28.17 72.75 26.22 71.75 24.00 71.00 C21.78 70.25 19.38 68.92 16.70 68.50 C14.02 68.08 11.03 68.25 7.94 68.50 C4.85 68.75 1.24 69.83 -1.82 70.00 C-4.88 70.17 -8.79 70.00 -10.40 69.50 C-12.01 69.00 -12.38 67.78 -11.50 67.00 C-10.62 66.22 -7.73 65.55 -5.15 64.80 C-2.57 64.05 1.04 63.38 3.98 62.50 C6.92 61.62 10.60 60.75 12.50 59.50 C14.40 58.25 15.33 57.08 15.38 55.00 C15.43 52.92 13.63 49.70 12.80 47.00 C11.97 44.30 11.09 41.50 10.39 38.80 C9.69 36.10 8.99 33.27 8.61 30.80 C8.23 28.33 8.62 25.62 8.12 24.00 C7.62 22.38 7.10 21.90 5.60 21.10 C4.10 20.30 1.40 19.67 -0.90 19.20 C-3.20 18.73 -6.27 18.68 -8.20 18.30 C-10.13 17.92 -11.92 17.65 -12.50 16.90 C-13.08 16.15 -12.80 14.37 -11.70 13.80 C-10.60 13.23 -8.08 13.33 -5.90 13.50 C-3.72 13.67 -0.47 14.55 1.40 14.80 C3.27 15.05 4.80 15.97 5.30 15.00 C5.80 14.03 5.37 11.43 4.40 9.00 C3.43 6.57 -0.42 2.22 -0.50 0.40 Z" fill="#aca094"/>
<ellipse cx="-1" cy="15" rx="10" ry="2.3" fill="#d3c0b2" opacity="0.9" transform="rotate(5 -1 15)"/>
<ellipse cx="-2" cy="66.5" rx="12" ry="2.4" fill="#d3c0b2" opacity="0.9" transform="rotate(-6 -2 66.5)"/>
<ellipse cx="24" cy="50" rx="10" ry="18" fill="#fff" opacity="0.12" transform="rotate(-9 24 50)" filter="url(#bl3)"/>
<ellipse cx="9" cy="4" rx="10" ry="5.2" fill="#a59286" opacity="0.75" transform="rotate(15 9 4)"/>
<ellipse cx="27" cy="12" rx="6" ry="3" fill="#d6c2b4" opacity="0.9" transform="rotate(20 27 12)"/>
<path d="M17.32 -0.02 C17.51 -1.11 20.05 -2.00 21.75 -2.71 C23.45 -3.42 25.79 -4.25 27.52 -4.25 C29.25 -4.25 31.17 -3.67 32.13 -2.71 C33.09 -1.75 33.60 0.17 33.28 1.52 C32.96 2.87 31.49 4.60 30.21 5.37 C28.93 6.14 27.19 6.40 25.59 6.14 C23.99 5.88 21.97 4.86 20.59 3.83 C19.21 2.80 17.13 1.07 17.32 -0.02 Z" fill="#dccbbb"/>
<ellipse cx="6" cy="33" rx="7" ry="7.35" fill="#c7b2a3"/>
<ellipse cx="8.10" cy="35.45" rx="4.90" ry="4.20" fill="#b4a193" opacity="0.7"/>
</g>
</g>
<path d="M246.50 458.60 L250.30 462.60 L248.40 462.60 L248.40 471.00 L244.60 471.00 L244.60 462.60 L242.70 462.60Z" fill="none" stroke="#e6e8ec" stroke-width="2.2" opacity="0.55" filter="url(#bl06)"/>
<path d="M246.50 458.60 L250.30 462.60 L248.40 462.60 L248.40 471.00 L244.60 471.00 L244.60 462.60 L242.70 462.60Z" fill="#5596dc" filter="url(#bl03)"/>
<g transform="translate(276.40 416.00) rotate(0) skewX(-12) scale(1.08 1.0)">
<g filter="url(#bl08)">
<path d="M26.2 68 C26.6 76 25.8 82 26.4 87" fill="none" stroke="#c0ab9d" stroke-width="2.2" stroke-linecap="round"/>
<path d="M-0.50 0.40 C-0.58 -1.42 2.05 -1.38 3.90 -1.90 C5.75 -2.42 8.52 -2.88 10.60 -2.70 C12.68 -2.52 14.73 -1.38 16.40 -0.80 C18.07 -0.22 19.07 0.08 20.60 0.80 C22.13 1.52 23.90 2.42 25.60 3.50 C27.30 4.58 29.20 5.97 30.80 7.30 C32.40 8.63 34.12 9.22 35.20 11.50 C36.28 13.78 36.43 17.25 37.30 21.00 C38.17 24.75 39.38 29.83 40.42 34.00 C41.46 38.17 42.99 42.33 43.54 46.00 C44.09 49.67 43.99 53.00 43.74 56.00 C43.49 59.00 42.83 61.75 42.02 64.00 C41.21 66.25 40.07 68.08 38.90 69.50 C37.73 70.92 36.48 71.92 35.00 72.50 C33.52 73.08 31.83 73.25 30.00 73.00 C28.17 72.75 26.22 71.75 24.00 71.00 C21.78 70.25 19.38 68.92 16.70 68.50 C14.02 68.08 11.03 68.25 7.94 68.50 C4.85 68.75 1.24 69.83 -1.82 70.00 C-4.88 70.17 -8.79 70.00 -10.40 69.50 C-12.01 69.00 -12.38 67.78 -11.50 67.00 C-10.62 66.22 -7.73 65.55 -5.15 64.80 C-2.57 64.05 1.04 63.38 3.98 62.50 C6.92 61.62 10.60 60.75 12.50 59.50 C14.40 58.25 15.33 57.08 15.38 55.00 C15.43 52.92 13.63 49.70 12.80 47.00 C11.97 44.30 11.09 41.50 10.39 38.80 C9.69 36.10 8.99 33.27 8.61 30.80 C8.23 28.33 8.62 25.62 8.12 24.00 C7.62 22.38 7.10 21.90 5.60 21.10 C4.10 20.30 1.40 19.67 -0.90 19.20 C-3.20 18.73 -6.27 18.68 -8.20 18.30 C-10.13 17.92 -11.92 17.65 -12.50 16.90 C-13.08 16.15 -12.80 14.37 -11.70 13.80 C-10.60 13.23 -8.08 13.33 -5.90 13.50 C-3.72 13.67 -0.47 14.55 1.40 14.80 C3.27 15.05 4.80 15.97 5.30 15.00 C5.80 14.03 5.37 11.43 4.40 9.00 C3.43 6.57 -0.42 2.22 -0.50 0.40 Z" fill="#a99e92"/>
<ellipse cx="-1" cy="15" rx="10" ry="2.3" fill="#d3c0b2" opacity="0.9" transform="rotate(5 -1 15)"/>
<ellipse cx="-2" cy="66.5" rx="12" ry="2.4" fill="#d3c0b2" opacity="0.9" transform="rotate(-6 -2 66.5)"/>
<ellipse cx="24" cy="50" rx="10" ry="18" fill="#fff" opacity="0.12" transform="rotate(-9 24 50)" filter="url(#bl3)"/>
<ellipse cx="9" cy="4" rx="10" ry="5.2" fill="#a59286" opacity="0.75" transform="rotate(15 9 4)"/>
<ellipse cx="27" cy="12" rx="6" ry="3" fill="#d6c2b4" opacity="0.9" transform="rotate(20 27 12)"/>
<path d="M17.32 -0.02 C17.51 -1.11 20.05 -2.00 21.75 -2.71 C23.45 -3.42 25.79 -4.25 27.52 -4.25 C29.25 -4.25 31.17 -3.67 32.13 -2.71 C33.09 -1.75 33.60 0.17 33.28 1.52 C32.96 2.87 31.49 4.60 30.21 5.37 C28.93 6.14 27.19 6.40 25.59 6.14 C23.99 5.88 21.97 4.86 20.59 3.83 C19.21 2.80 17.13 1.07 17.32 -0.02 Z" fill="#dccbbb"/>
</g>
</g>
<path d="M290.50 457.30 L294.30 461.30 L292.40 461.30 L292.40 469.70 L288.60 469.70 L288.60 461.30 L286.70 461.30Z" fill="none" stroke="#e6e8ec" stroke-width="2.2" opacity="0.55" filter="url(#bl06)"/>
<path d="M290.50 457.30 L294.30 461.30 L292.40 461.30 L292.40 469.70 L288.60 469.70 L288.60 461.30 L286.70 461.30Z" fill="#5596dc" filter="url(#bl03)"/>
<g filter="url(#bl06)">
<ellipse cx="189.10" cy="530.50" rx="11.00" ry="10.50" fill="#c09284" />
<ellipse cx="201.10" cy="526.50" rx="8.00" ry="8.50" fill="#c09284" />
<ellipse cx="188.50" cy="529.50" rx="10.45" ry="9.77" fill="#d3a597" />
<ellipse cx="200.50" cy="525.50" rx="7.60" ry="7.91" fill="#d3a597" />
<ellipse cx="186.85" cy="527.40" rx="6.05" ry="5.25" fill="#e8cbc0" />
<ellipse cx="199.30" cy="523.80" rx="4.40" ry="4.25" fill="#e8cbc0" />
</g>
<g filter="url(#bl06)">
<ellipse cx="242.10" cy="529.50" rx="13.00" ry="11.50" fill="#b07a70" />
<ellipse cx="260.10" cy="529.50" rx="6.80" ry="6.80" fill="#b07a70" />
<ellipse cx="241.50" cy="528.50" rx="12.35" ry="10.70" fill="#c98a7e" />
<ellipse cx="259.50" cy="528.50" rx="6.46" ry="6.32" fill="#c98a7e" />
<ellipse cx="239.55" cy="526.20" rx="7.15" ry="5.75" fill="#dba89c" />
<ellipse cx="258.48" cy="527.14" rx="3.74" ry="3.40" fill="#dba89c" />
</g>
<g filter="url(#bl06)">
<ellipse cx="299.40" cy="526.60" rx="11.30" ry="8.10" fill="#c09284" />
<ellipse cx="298.80" cy="525.60" rx="10.73" ry="7.53" fill="#d8ad9a" />
<ellipse cx="297.11" cy="523.98" rx="6.22" ry="4.05" fill="#ecd0c2" />
</g>
<rect x="169.70" y="549.80" width="151.80" height="25.70" fill="#dedede" />
<rect x="169.70" y="549.80" width="151.80" height="11.00" fill="#d2d2d2" />
<line x1="169.70" y1="550.30" x2="321.50" y2="550.30" stroke="#666" stroke-width="1.0" />
<rect x="169.70" y="560.80" width="151.80" height="4.20" fill="#f6f6f6" />
<line x1="183.00" y1="550.80" x2="183.00" y2="563.60" stroke="#3a3a3a" stroke-width="0.8" />
<line x1="185.16" y1="550.80" x2="185.16" y2="559.30" stroke="#555" stroke-width="0.6" />
<line x1="187.32" y1="550.80" x2="187.32" y2="559.30" stroke="#555" stroke-width="0.6" />
<line x1="189.48" y1="550.80" x2="189.48" y2="559.30" stroke="#555" stroke-width="0.6" />
<line x1="191.64" y1="550.80" x2="191.64" y2="559.30" stroke="#555" stroke-width="0.6" />
<line x1="193.80" y1="550.80" x2="193.80" y2="561.30" stroke="#444" stroke-width="0.7" />
<line x1="195.96" y1="550.80" x2="195.96" y2="559.30" stroke="#555" stroke-width="0.6" />
<line x1="198.12" y1="550.80" x2="198.12" y2="559.30" stroke="#555" stroke-width="0.6" />
<line x1="200.28" y1="550.80" x2="200.28" y2="559.30" stroke="#555" stroke-width="0.6" />
<line x1="202.44" y1="550.80" x2="202.44" y2="559.30" stroke="#555" stroke-width="0.6" />
<line x1="204.60" y1="550.80" x2="204.60" y2="563.60" stroke="#3a3a3a" stroke-width="0.8" />
<line x1="206.76" y1="550.80" x2="206.76" y2="559.30" stroke="#555" stroke-width="0.6" />
<line x1="208.92" y1="550.80" x2="208.92" y2="559.30" stroke="#555" stroke-width="0.6" />
<line x1="211.08" y1="550.80" x2="211.08" y2="559.30" stroke="#555" stroke-width="0.6" />
<line x1="213.24" y1="550.80" x2="213.24" y2="559.30" stroke="#555" stroke-width="0.6" />
<line x1="215.40" y1="550.80" x2="215.40" y2="561.30" stroke="#444" stroke-width="0.7" />
<line x1="217.56" y1="550.80" x2="217.56" y2="559.30" stroke="#555" stroke-width="0.6" />
<line x1="219.72" y1="550.80" x2="219.72" y2="559.30" stroke="#555" stroke-width="0.6" />
<line x1="221.88" y1="550.80" x2="221.88" y2="559.30" stroke="#555" stroke-width="0.6" />
<line x1="224.04" y1="550.80" x2="224.04" y2="559.30" stroke="#555" stroke-width="0.6" />
<line x1="226.20" y1="550.80" x2="226.20" y2="563.60" stroke="#3a3a3a" stroke-width="0.8" />
<line x1="228.36" y1="550.80" x2="228.36" y2="559.30" stroke="#555" stroke-width="0.6" />
<line x1="230.52" y1="550.80" x2="230.52" y2="559.30" stroke="#555" stroke-width="0.6" />
<line x1="232.68" y1="550.80" x2="232.68" y2="559.30" stroke="#555" stroke-width="0.6" />
<line x1="234.84" y1="550.80" x2="234.84" y2="559.30" stroke="#555" stroke-width="0.6" />
<line x1="237.00" y1="550.80" x2="237.00" y2="561.30" stroke="#444" stroke-width="0.7" />
<line x1="239.16" y1="550.80" x2="239.16" y2="559.30" stroke="#555" stroke-width="0.6" />
<line x1="241.32" y1="550.80" x2="241.32" y2="559.30" stroke="#555" stroke-width="0.6" />
<line x1="243.48" y1="550.80" x2="243.48" y2="559.30" stroke="#555" stroke-width="0.6" />
<line x1="245.64" y1="550.80" x2="245.64" y2="559.30" stroke="#555" stroke-width="0.6" />
<line x1="247.80" y1="550.80" x2="247.80" y2="563.60" stroke="#3a3a3a" stroke-width="0.8" />
<line x1="249.96" y1="550.80" x2="249.96" y2="559.30" stroke="#555" stroke-width="0.6" />
<line x1="252.12" y1="550.80" x2="252.12" y2="559.30" stroke="#555" stroke-width="0.6" />
<line x1="254.28" y1="550.80" x2="254.28" y2="559.30" stroke="#555" stroke-width="0.6" />
<line x1="256.44" y1="550.80" x2="256.44" y2="559.30" stroke="#555" stroke-width="0.6" />
<line x1="258.60" y1="550.80" x2="258.60" y2="561.30" stroke="#444" stroke-width="0.7" />
<line x1="260.76" y1="550.80" x2="260.76" y2="559.30" stroke="#555" stroke-width="0.6" />
<line x1="262.92" y1="550.80" x2="262.92" y2="559.30" stroke="#555" stroke-width="0.6" />
<line x1="265.08" y1="550.80" x2="265.08" y2="559.30" stroke="#555" stroke-width="0.6" />
<line x1="267.24" y1="550.80" x2="267.24" y2="559.30" stroke="#555" stroke-width="0.6" />
<line x1="269.40" y1="550.80" x2="269.40" y2="563.60" stroke="#3a3a3a" stroke-width="0.8" />
<line x1="271.56" y1="550.80" x2="271.56" y2="559.30" stroke="#555" stroke-width="0.6" />
<line x1="273.72" y1="550.80" x2="273.72" y2="559.30" stroke="#555" stroke-width="0.6" />
<line x1="275.88" y1="550.80" x2="275.88" y2="559.30" stroke="#555" stroke-width="0.6" />
<line x1="278.04" y1="550.80" x2="278.04" y2="559.30" stroke="#555" stroke-width="0.6" />
<line x1="280.20" y1="550.80" x2="280.20" y2="561.30" stroke="#444" stroke-width="0.7" />
<line x1="282.36" y1="550.80" x2="282.36" y2="559.30" stroke="#555" stroke-width="0.6" />
<line x1="284.52" y1="550.80" x2="284.52" y2="559.30" stroke="#555" stroke-width="0.6" />
<line x1="286.68" y1="550.80" x2="286.68" y2="559.30" stroke="#555" stroke-width="0.6" />
<line x1="288.84" y1="550.80" x2="288.84" y2="559.30" stroke="#555" stroke-width="0.6" />
<line x1="291.00" y1="550.80" x2="291.00" y2="563.60" stroke="#3a3a3a" stroke-width="0.8" />
<line x1="293.16" y1="550.80" x2="293.16" y2="559.30" stroke="#555" stroke-width="0.6" />
<line x1="295.32" y1="550.80" x2="295.32" y2="559.30" stroke="#555" stroke-width="0.6" />
<line x1="297.48" y1="550.80" x2="297.48" y2="559.30" stroke="#555" stroke-width="0.6" />
<line x1="299.64" y1="550.80" x2="299.64" y2="559.30" stroke="#555" stroke-width="0.6" />
<line x1="301.80" y1="550.80" x2="301.80" y2="561.30" stroke="#444" stroke-width="0.7" />
<line x1="303.96" y1="550.80" x2="303.96" y2="559.30" stroke="#555" stroke-width="0.6" />
<line x1="306.12" y1="550.80" x2="306.12" y2="559.30" stroke="#555" stroke-width="0.6" />
<line x1="308.28" y1="550.80" x2="308.28" y2="559.30" stroke="#555" stroke-width="0.6" />
<line x1="310.44" y1="550.80" x2="310.44" y2="559.30" stroke="#555" stroke-width="0.6" />
<line x1="312.60" y1="550.80" x2="312.60" y2="563.60" stroke="#3a3a3a" stroke-width="0.8" />
<line x1="314.76" y1="550.80" x2="314.76" y2="559.30" stroke="#555" stroke-width="0.6" />
<line x1="316.92" y1="550.80" x2="316.92" y2="559.30" stroke="#555" stroke-width="0.6" />
<line x1="319.08" y1="550.80" x2="319.08" y2="559.30" stroke="#555" stroke-width="0.6" />
<line x1="321.24" y1="550.80" x2="321.24" y2="559.30" stroke="#555" stroke-width="0.6" />
<text x="189.60" y="572.95" font-size="8.8" stroke="#222" stroke-width="0.12" font-weight="bold" text-anchor="middle" fill="#222" >1cm</text>
<text x="205.00" y="572.95" font-size="8.8" stroke="#222" stroke-width="0.12" font-weight="bold" text-anchor="middle" fill="#222" >2</text>
<text x="227.00" y="572.95" font-size="8.8" stroke="#222" stroke-width="0.12" font-weight="bold" text-anchor="middle" fill="#222" >3</text>
<text x="248.60" y="572.95" font-size="8.8" stroke="#222" stroke-width="0.12" font-weight="bold" text-anchor="middle" fill="#222" >4</text>
<text x="270.20" y="572.95" font-size="8.8" stroke="#222" stroke-width="0.12" font-weight="bold" text-anchor="middle" fill="#222" >5</text>
<text x="291.80" y="572.95" font-size="8.8" stroke="#222" stroke-width="0.12" font-weight="bold" text-anchor="middle" fill="#222" >6</text>
<text x="313.40" y="572.95" font-size="8.8" stroke="#222" stroke-width="0.12" font-weight="bold" text-anchor="middle" fill="#222" >7</text>
<line x1="10.70" y1="504.80" x2="162.30" y2="504.80" stroke="#333" stroke-width="1.3" />
<rect x="10.70" y="404.70" width="151.60" height="170.80" fill="none" stroke="#444" stroke-width="1.4" />
<line x1="169.70" y1="504.80" x2="321.50" y2="504.80" stroke="#333" stroke-width="1.3" />
<rect x="169.70" y="404.70" width="151.80" height="170.80" fill="none" stroke="#444" stroke-width="1.4" />
<text x="33.80" y="400.65" font-size="10.2" stroke="#111" stroke-width="0.38" fill="#111" textLength="23.70" lengthAdjust="spacingAndGlyphs" >Mock</text>
<text x="65.00" y="400.65" font-size="10.2" stroke="#111" stroke-width="0.38" fill="#111" textLength="34.50" lengthAdjust="spacingAndGlyphs" >Control</text>
<text x="110.00" y="400.65" font-size="10.2" stroke="#111" stroke-width="0.38" fill="#111" textLength="33.70" lengthAdjust="spacingAndGlyphs" >pSTK33</text>
<text x="192.70" y="400.45" font-size="10.2" stroke="#111" stroke-width="0.38" fill="#111" textLength="25.90" lengthAdjust="spacingAndGlyphs" >Mock</text>
<text x="225.00" y="400.45" font-size="10.2" stroke="#111" stroke-width="0.38" fill="#111" textLength="35.20" lengthAdjust="spacingAndGlyphs" >Control</text>
<text x="270.60" y="400.45" font-size="10.2" stroke="#111" stroke-width="0.38" fill="#111" textLength="33.40" lengthAdjust="spacingAndGlyphs" >siSTK33</text>
<text x="85.80" y="586.95" font-size="10.2" stroke="#111" stroke-width="0.12" font-weight="bold" text-anchor="middle" fill="#111" textLength="32.30" lengthAdjust="spacingAndGlyphs" >AsPC-1</text>
<text x="244.40" y="586.55" font-size="10.2" stroke="#111" stroke-width="0.12" font-weight="bold" text-anchor="middle" fill="#111" textLength="36.00" lengthAdjust="spacingAndGlyphs" >SW1990</text>
<rect x="371.4" y="390.8" width="141.5" height="92.09999999999997" fill="url(#gG)"/>
<rect x="371.40" y="390.80" width="141.50" height="6.00" fill="#a5aaa3" />
<line x1="375.40" y1="392.30" x2="376.40" y2="395.30" stroke="#6e736c" stroke-width="0.8" />
<line x1="389.20" y1="392.30" x2="390.20" y2="395.30" stroke="#6e736c" stroke-width="0.8" />
<line x1="403.00" y1="392.30" x2="404.00" y2="395.30" stroke="#6e736c" stroke-width="0.8" />
<line x1="416.80" y1="392.30" x2="417.80" y2="395.30" stroke="#6e736c" stroke-width="0.8" />
<line x1="430.60" y1="392.30" x2="431.60" y2="395.30" stroke="#6e736c" stroke-width="0.8" />
<line x1="444.40" y1="392.30" x2="445.40" y2="395.30" stroke="#6e736c" stroke-width="0.8" />
<line x1="458.20" y1="392.30" x2="459.20" y2="395.30" stroke="#6e736c" stroke-width="0.8" />
<line x1="472.00" y1="392.30" x2="473.00" y2="395.30" stroke="#6e736c" stroke-width="0.8" />
<line x1="485.80" y1="392.30" x2="486.80" y2="395.30" stroke="#6e736c" stroke-width="0.8" />
<line x1="499.60" y1="392.30" x2="500.60" y2="395.30" stroke="#6e736c" stroke-width="0.8" />
<rect x="371.4" y="489.0" width="140.0" height="92.39999999999998" fill="url(#gG)"/>
<rect x="371.40" y="489.00" width="140.00" height="6.00" fill="#a5aaa3" />
<line x1="375.40" y1="490.50" x2="376.40" y2="493.50" stroke="#6e736c" stroke-width="0.8" />
<line x1="389.20" y1="490.50" x2="390.20" y2="493.50" stroke="#6e736c" stroke-width="0.8" />
<line x1="403.00" y1="490.50" x2="404.00" y2="493.50" stroke="#6e736c" stroke-width="0.8" />
<line x1="416.80" y1="490.50" x2="417.80" y2="493.50" stroke="#6e736c" stroke-width="0.8" />
<line x1="430.60" y1="490.50" x2="431.60" y2="493.50" stroke="#6e736c" stroke-width="0.8" />
<line x1="444.40" y1="490.50" x2="445.40" y2="493.50" stroke="#6e736c" stroke-width="0.8" />
<line x1="458.20" y1="490.50" x2="459.20" y2="493.50" stroke="#6e736c" stroke-width="0.8" />
<line x1="472.00" y1="490.50" x2="473.00" y2="493.50" stroke="#6e736c" stroke-width="0.8" />
<line x1="485.80" y1="490.50" x2="486.80" y2="493.50" stroke="#6e736c" stroke-width="0.8" />
<line x1="499.60" y1="490.50" x2="500.60" y2="493.50" stroke="#6e736c" stroke-width="0.8" />
<g filter="url(#bl06)">
<ellipse cx="392.20" cy="412.90" rx="4.60" ry="4.60" fill="#d8b898" opacity="0.6"/>
<ellipse cx="392.20" cy="412.90" rx="3.40" ry="3.40" fill="#b05a44" />
</g>
<g filter="url(#bl06)">
<ellipse cx="415.60" cy="412.90" rx="5.00" ry="4.80" fill="#d8b898" opacity="0.6"/>
<ellipse cx="415.60" cy="412.90" rx="3.80" ry="3.60" fill="#b87a4e" />
</g>
<g filter="url(#bl06)">
<ellipse cx="439.90" cy="412.10" rx="4.40" ry="4.20" fill="#d8b898" opacity="0.6"/>
<ellipse cx="439.90" cy="412.10" rx="3.20" ry="3.00" fill="#b06048" />
</g>
<g filter="url(#bl06)">
<ellipse cx="461.40" cy="412.60" rx="4.60" ry="5.80" fill="#d8b898" opacity="0.6"/>
<ellipse cx="461.40" cy="412.60" rx="3.40" ry="4.60" fill="#bc8a58" />
</g>
<g filter="url(#bl06)">
<ellipse cx="490.50" cy="417.50" rx="3.60" ry="3.50" fill="#d8b898" opacity="0.6"/>
<ellipse cx="490.50" cy="417.50" rx="2.40" ry="2.30" fill="#c49468" />
</g>
<g filter="url(#bl06)">
<ellipse cx="390.80" cy="430.20" rx="4.20" ry="4.20" fill="#d8b898" opacity="0.6"/>
<ellipse cx="390.80" cy="430.20" rx="3.00" ry="3.00" fill="#b47258" />
</g>
<g filter="url(#bl06)">
<ellipse cx="415.60" cy="433.70" rx="4.80" ry="4.40" fill="#d8b898" opacity="0.6"/>
<ellipse cx="415.60" cy="433.70" rx="3.60" ry="3.20" fill="#a8483a" />
</g>
<g filter="url(#bl06)">
<ellipse cx="443.40" cy="435.80" rx="4.40" ry="4.40" fill="#d8b898" opacity="0.6"/>
<ellipse cx="443.40" cy="435.80" rx="3.20" ry="3.20" fill="#a04036" />
</g>
<g filter="url(#bl06)">
<ellipse cx="464.10" cy="432.30" rx="4.60" ry="4.80" fill="#d8b898" opacity="0.6"/>
<ellipse cx="464.10" cy="432.30" rx="3.40" ry="3.60" fill="#bc8a5e" />
</g>
<g filter="url(#bl06)">
<ellipse cx="490.50" cy="434.20" rx="4.40" ry="4.60" fill="#d8b898" opacity="0.6"/>
<ellipse cx="490.50" cy="434.20" rx="3.20" ry="3.40" fill="#a03838" />
</g>
<g filter="url(#bl06)">
<ellipse cx="391.40" cy="451.20" rx="5.20" ry="5.40" fill="#d8b898" opacity="0.6"/>
<ellipse cx="391.40" cy="451.20" rx="4.00" ry="4.20" fill="#b06048" />
</g>
<g filter="url(#bl06)">
<ellipse cx="414.30" cy="453.80" rx="5.20" ry="6.60" fill="#d8b898" opacity="0.6"/>
<ellipse cx="414.30" cy="453.80" rx="4.00" ry="5.40" fill="#a8503c" />
</g>
<g filter="url(#bl06)">
<ellipse cx="441.20" cy="455.20" rx="5.60" ry="5.80" fill="#d8b898" opacity="0.6"/>
<ellipse cx="441.20" cy="455.20" rx="4.40" ry="4.60" fill="#b05c48" />
</g>
<g filter="url(#bl06)">
<ellipse cx="463.50" cy="456.00" rx="5.60" ry="7.20" fill="#d8b898" opacity="0.6"/>
<ellipse cx="463.50" cy="456.00" rx="4.40" ry="6.00" fill="#b87050" />
</g>
<g filter="url(#bl06)">
<ellipse cx="490.50" cy="455.20" rx="5.60" ry="6.00" fill="#d8b898" opacity="0.6"/>
<ellipse cx="490.50" cy="455.20" rx="4.40" ry="4.80" fill="#b05a44" />
</g>
<g filter="url(#bl06)">
<ellipse cx="381.40" cy="518.30" rx="6.80" ry="6.30" fill="#c89a80" opacity="0.6"/>
<ellipse cx="381.40" cy="518.30" rx="6.00" ry="5.50" fill="#b4533a" />
<ellipse cx="380.20" cy="517.20" rx="3.30" ry="2.75" fill="#c46a4c" />
</g>
<g filter="url(#bl06)">
<ellipse cx="409.70" cy="518.80" rx="5.80" ry="7.30" fill="#c89a80" opacity="0.6"/>
<ellipse cx="409.70" cy="518.80" rx="5.00" ry="6.50" fill="#b4533a" />
<ellipse cx="408.70" cy="517.50" rx="2.75" ry="3.25" fill="#c46a4c" />
</g>
<g filter="url(#bl06)">
<ellipse cx="438.00" cy="517.50" rx="7.30" ry="6.30" fill="#c89a80" opacity="0.6"/>
<ellipse cx="438.00" cy="517.50" rx="6.50" ry="5.50" fill="#b4533a" />
<ellipse cx="436.70" cy="516.40" rx="3.58" ry="2.75" fill="#c46a4c" />
</g>
<g filter="url(#bl06)">
<ellipse cx="469.50" cy="519.70" rx="6.30" ry="5.80" fill="#c89a80" opacity="0.6"/>
<ellipse cx="469.50" cy="519.70" rx="5.50" ry="5.00" fill="#b4533a" />
<ellipse cx="468.40" cy="518.70" rx="3.03" ry="2.50" fill="#c46a4c" />
</g>
<g filter="url(#bl06)">
<ellipse cx="503.10" cy="520.20" rx="5.80" ry="6.30" fill="#c89a80" opacity="0.6"/>
<ellipse cx="503.10" cy="520.20" rx="5.00" ry="5.50" fill="#b4533a" />
<ellipse cx="502.10" cy="519.10" rx="2.75" ry="2.75" fill="#c46a4c" />
</g>
<g filter="url(#bl06)">
<ellipse cx="381.40" cy="543.10" rx="6.30" ry="7.80" fill="#c89a80" opacity="0.6"/>
<ellipse cx="381.40" cy="543.10" rx="5.50" ry="7.00" fill="#b4533a" />
<ellipse cx="380.30" cy="541.70" rx="3.03" ry="3.50" fill="#c46a4c" />
</g>
<g filter="url(#bl06)">
<ellipse cx="410.20" cy="541.70" rx="6.80" ry="6.30" fill="#c89a80" opacity="0.6"/>
<ellipse cx="410.20" cy="541.70" rx="6.00" ry="5.50" fill="#b4533a" />
<ellipse cx="409.00" cy="540.60" rx="3.30" ry="2.75" fill="#c46a4c" />
</g>
<g filter="url(#bl06)">
<ellipse cx="440.70" cy="543.90" rx="6.30" ry="7.30" fill="#c89a80" opacity="0.6"/>
<ellipse cx="440.70" cy="543.90" rx="5.50" ry="6.50" fill="#b4533a" />
<ellipse cx="439.60" cy="542.60" rx="3.03" ry="3.25" fill="#c46a4c" />
</g>
<g filter="url(#bl06)">
<ellipse cx="471.60" cy="543.10" rx="6.80" ry="6.30" fill="#c89a80" opacity="0.6"/>
<ellipse cx="471.60" cy="543.10" rx="6.00" ry="5.50" fill="#b4533a" />
<ellipse cx="470.40" cy="542.00" rx="3.30" ry="2.75" fill="#c46a4c" />
</g>
<g filter="url(#bl06)">
<ellipse cx="504.00" cy="543.10" rx="5.30" ry="5.80" fill="#c89a80" opacity="0.6"/>
<ellipse cx="504.00" cy="543.10" rx="4.50" ry="5.00" fill="#b4533a" />
<ellipse cx="503.10" cy="542.10" rx="2.48" ry="2.50" fill="#c46a4c" />
</g>
<g filter="url(#bl06)">
<ellipse cx="380.60" cy="570.00" rx="4.80" ry="5.30" fill="#c89a80" opacity="0.6"/>
<ellipse cx="380.60" cy="570.00" rx="4.00" ry="4.50" fill="#b4533a" />
<ellipse cx="379.80" cy="569.10" rx="2.20" ry="2.25" fill="#c46a4c" />
</g>
<g filter="url(#bl06)">
<ellipse cx="412.40" cy="570.50" rx="4.80" ry="4.80" fill="#c89a80" opacity="0.6"/>
<ellipse cx="412.40" cy="570.50" rx="4.00" ry="4.00" fill="#b4533a" />
<ellipse cx="411.60" cy="569.70" rx="2.20" ry="2.00" fill="#c46a4c" />
</g>
<g filter="url(#bl06)">
<ellipse cx="441.50" cy="568.70" rx="4.80" ry="5.80" fill="#c89a80" opacity="0.6"/>
<ellipse cx="441.50" cy="568.70" rx="4.00" ry="5.00" fill="#b4533a" />
<ellipse cx="440.70" cy="567.70" rx="2.20" ry="2.50" fill="#c46a4c" />
</g>
<g filter="url(#bl06)">
<ellipse cx="471.60" cy="570.50" rx="4.30" ry="5.30" fill="#c89a80" opacity="0.6"/>
<ellipse cx="471.60" cy="570.50" rx="3.50" ry="4.50" fill="#b4533a" />
<ellipse cx="470.90" cy="569.60" rx="1.93" ry="2.25" fill="#c46a4c" />
</g>
<g filter="url(#bl06)">
<ellipse cx="504.00" cy="570.50" rx="4.80" ry="4.80" fill="#c89a80" opacity="0.6"/>
<ellipse cx="504.00" cy="570.50" rx="4.00" ry="4.00" fill="#b4533a" />
<ellipse cx="503.20" cy="569.70" rx="2.20" ry="2.00" fill="#c46a4c" />
</g>
<rect x="371.40" y="390.80" width="141.50" height="92.10" fill="none" stroke="#333" stroke-width="1.6" />
<rect x="371.40" y="489.00" width="140.00" height="92.40" fill="none" stroke="#333" stroke-width="1.6" />
<text x="461.00" y="406.94" font-size="8.2" stroke="#2a2a2a" stroke-width="0.1" fill="#2a2a2a" textLength="47.00" lengthAdjust="spacingAndGlyphs" >(0.27 &#177; 0.10g)</text>
<text x="462.20" y="427.14" font-size="8.2" stroke="#2a2a2a" stroke-width="0.1" fill="#2a2a2a" textLength="47.70" lengthAdjust="spacingAndGlyphs" >(0.31 &#177; 0.13g)</text>
<text x="458.20" y="446.54" font-size="8.2" stroke="#2a2a2a" stroke-width="0.1" fill="#2a2a2a" textLength="51.70" lengthAdjust="spacingAndGlyphs" >(0.68 &#177; 0.20g*)</text>
<text x="381.00" y="475.95" font-size="10.2" stroke="#222" stroke-width="0.38" fill="#222" textLength="32.00" lengthAdjust="spacingAndGlyphs" >Panc02</text>
<text x="380.00" y="508.45" font-size="10.2" stroke="#222" stroke-width="0.38" fill="#222" textLength="51.20" lengthAdjust="spacingAndGlyphs" >Panc02-H7</text>
<text x="461.70" y="511.04" font-size="8.2" stroke="#2a2a2a" stroke-width="0.1" fill="#2a2a2a" textLength="47.60" lengthAdjust="spacingAndGlyphs" >(0.72 &#177; 0.12g)</text>
<text x="461.70" y="535.74" font-size="8.2" stroke="#2a2a2a" stroke-width="0.1" fill="#2a2a2a" textLength="47.60" lengthAdjust="spacingAndGlyphs" >(0.74 &#177; 0.15g)</text>
<text x="457.60" y="561.34" font-size="8.2" stroke="#2a2a2a" stroke-width="0.1" fill="#2a2a2a" textLength="51.70" lengthAdjust="spacingAndGlyphs" >(0.35 &#177; 0.08g*)</text>
<text x="369.20" y="420.18" font-size="10.0" stroke="#111" stroke-width="0.38" text-anchor="end" fill="#111" textLength="24.80" lengthAdjust="spacingAndGlyphs" >Mock</text>
<text x="369.20" y="438.68" font-size="10.0" stroke="#111" stroke-width="0.38" text-anchor="end" fill="#111" textLength="34.80" lengthAdjust="spacingAndGlyphs" >Control</text>
<text x="369.20" y="462.28" font-size="10.0" stroke="#111" stroke-width="0.38" text-anchor="end" fill="#111" textLength="33.10" lengthAdjust="spacingAndGlyphs" >pSTK33</text>
<text x="369.00" y="524.38" font-size="10.0" stroke="#111" stroke-width="0.38" text-anchor="end" fill="#111" textLength="25.80" lengthAdjust="spacingAndGlyphs" >Mock</text>
<text x="369.00" y="545.58" font-size="10.0" stroke="#111" stroke-width="0.38" text-anchor="end" fill="#111" textLength="35.80" lengthAdjust="spacingAndGlyphs" >Control</text>
<text x="369.00" y="570.58" font-size="10.0" stroke="#111" stroke-width="0.38" text-anchor="end" fill="#111" textLength="35.80" lengthAdjust="spacingAndGlyphs" >siSTK33</text>
</svg>
</body></html>
